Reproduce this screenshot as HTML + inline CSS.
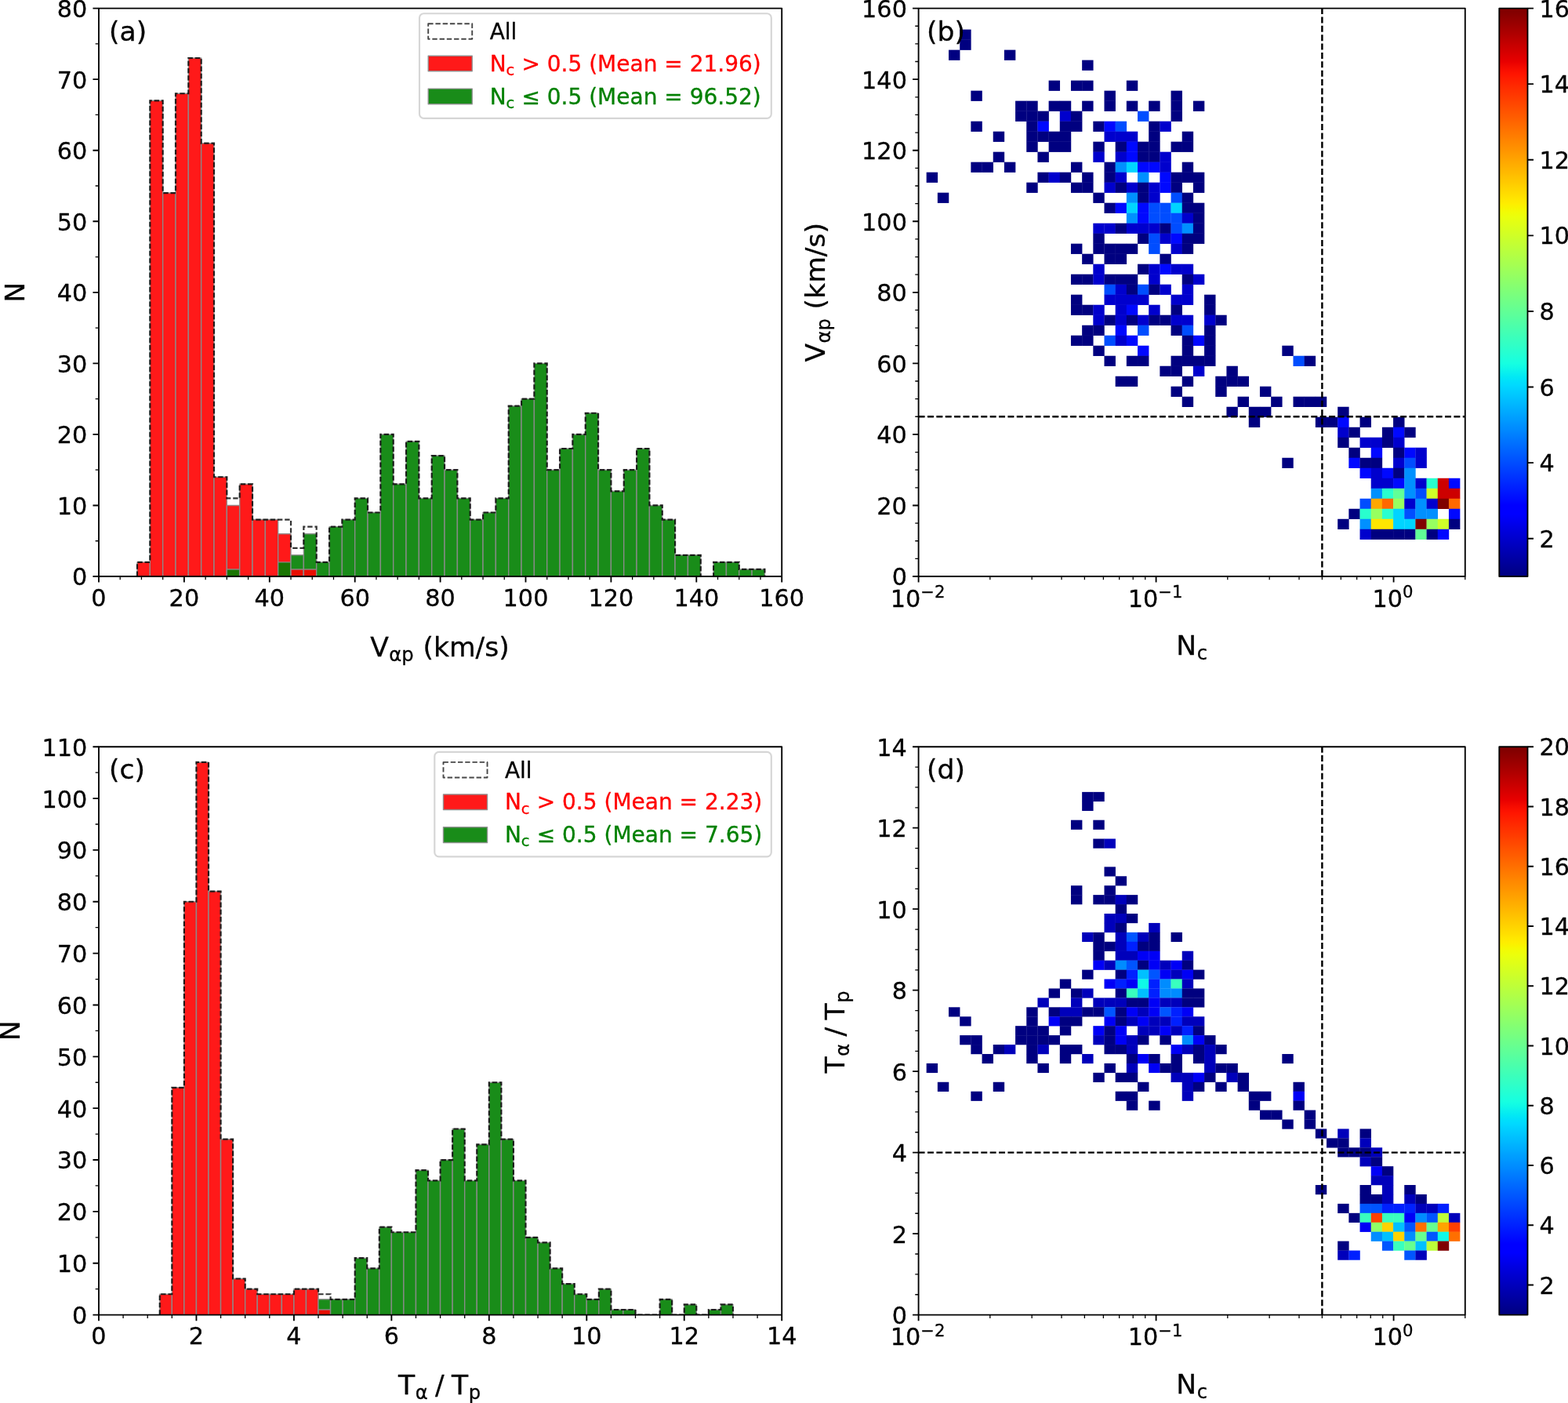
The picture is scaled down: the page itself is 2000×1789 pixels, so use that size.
<!DOCTYPE html>
<html lang="en"><head><meta charset="utf-8"><title>Figure</title>
<style>html,body{margin:0;padding:0;background:#fff}body{width:2000px;height:1789px;overflow:hidden}svg{display:block}</style></head>
<body>
<svg width="2000" height="1789" viewBox="0 0 2000 1789" font-family="'DejaVu Sans','Liberation Sans',sans-serif" stroke-width="0.3" stroke-linejoin="round">
<rect width="2000" height="1789" fill="#fff"/>
<clipPath id="ca"><rect x="126" y="10.6" width="871.2" height="724.4"/></clipPath>
<g clip-path="url(#ca)">
<rect x="175" y="716.89" width="16.34" height="18.11" fill="rgb(255,0,0)" fill-opacity="0.9" stroke="#8c8c8c" stroke-opacity="0.9" stroke-width="1.45"/>
<rect x="191.34" y="128.32" width="16.34" height="606.68" fill="rgb(255,0,0)" fill-opacity="0.9" stroke="#8c8c8c" stroke-opacity="0.9" stroke-width="1.45"/>
<rect x="207.68" y="246.03" width="16.33" height="488.97" fill="rgb(255,0,0)" fill-opacity="0.9" stroke="#8c8c8c" stroke-opacity="0.9" stroke-width="1.45"/>
<rect x="224.01" y="119.26" width="16.34" height="615.74" fill="rgb(255,0,0)" fill-opacity="0.9" stroke="#8c8c8c" stroke-opacity="0.9" stroke-width="1.45"/>
<rect x="240.35" y="73.99" width="16.33" height="661.01" fill="rgb(255,0,0)" fill-opacity="0.9" stroke="#8c8c8c" stroke-opacity="0.9" stroke-width="1.45"/>
<rect x="256.68" y="182.65" width="16.33" height="552.35" fill="rgb(255,0,0)" fill-opacity="0.9" stroke="#8c8c8c" stroke-opacity="0.9" stroke-width="1.45"/>
<rect x="273.01" y="608.23" width="16.34" height="126.77" fill="rgb(255,0,0)" fill-opacity="0.9" stroke="#8c8c8c" stroke-opacity="0.9" stroke-width="1.45"/>
<rect x="289.35" y="644.45" width="16.33" height="90.55" fill="rgb(255,0,0)" fill-opacity="0.9" stroke="#8c8c8c" stroke-opacity="0.9" stroke-width="1.45"/>
<rect x="289.35" y="725.95" width="16.33" height="9.05" fill="rgb(0,128,0)" fill-opacity="0.9" stroke="#8c8c8c" stroke-opacity="0.9" stroke-width="1.45"/>
<rect x="305.69" y="617.28" width="16.33" height="117.72" fill="rgb(255,0,0)" fill-opacity="0.9" stroke="#8c8c8c" stroke-opacity="0.9" stroke-width="1.45"/>
<rect x="322.02" y="662.56" width="16.34" height="72.44" fill="rgb(255,0,0)" fill-opacity="0.9" stroke="#8c8c8c" stroke-opacity="0.9" stroke-width="1.45"/>
<rect x="338.36" y="662.56" width="16.34" height="72.44" fill="rgb(255,0,0)" fill-opacity="0.9" stroke="#8c8c8c" stroke-opacity="0.9" stroke-width="1.45"/>
<rect x="354.69" y="680.67" width="16.33" height="54.33" fill="rgb(255,0,0)" fill-opacity="0.9" stroke="#8c8c8c" stroke-opacity="0.9" stroke-width="1.45"/>
<rect x="354.69" y="716.89" width="16.33" height="18.11" fill="rgb(0,128,0)" fill-opacity="0.9" stroke="#8c8c8c" stroke-opacity="0.9" stroke-width="1.45"/>
<rect x="371.02" y="707.84" width="16.34" height="27.16" fill="rgb(0,128,0)" fill-opacity="0.9" stroke="#8c8c8c" stroke-opacity="0.9" stroke-width="1.45"/>
<rect x="371.02" y="725.95" width="16.34" height="9.05" fill="rgb(255,0,0)" fill-opacity="0.9" stroke="#8c8c8c" stroke-opacity="0.9" stroke-width="1.45"/>
<rect x="387.36" y="680.67" width="16.33" height="54.33" fill="rgb(0,128,0)" fill-opacity="0.9" stroke="#8c8c8c" stroke-opacity="0.9" stroke-width="1.45"/>
<rect x="387.36" y="725.95" width="16.33" height="9.05" fill="rgb(255,0,0)" fill-opacity="0.9" stroke="#8c8c8c" stroke-opacity="0.9" stroke-width="1.45"/>
<rect x="403.69" y="716.89" width="16.34" height="18.11" fill="rgb(0,128,0)" fill-opacity="0.9" stroke="#8c8c8c" stroke-opacity="0.9" stroke-width="1.45"/>
<rect x="420.03" y="671.62" width="16.33" height="63.38" fill="rgb(0,128,0)" fill-opacity="0.9" stroke="#8c8c8c" stroke-opacity="0.9" stroke-width="1.45"/>
<rect x="436.37" y="662.56" width="16.34" height="72.44" fill="rgb(0,128,0)" fill-opacity="0.9" stroke="#8c8c8c" stroke-opacity="0.9" stroke-width="1.45"/>
<rect x="452.7" y="635.39" width="16.33" height="99.61" fill="rgb(0,128,0)" fill-opacity="0.9" stroke="#8c8c8c" stroke-opacity="0.9" stroke-width="1.45"/>
<rect x="469.04" y="653.5" width="16.33" height="81.5" fill="rgb(0,128,0)" fill-opacity="0.9" stroke="#8c8c8c" stroke-opacity="0.9" stroke-width="1.45"/>
<rect x="485.37" y="553.9" width="16.34" height="181.1" fill="rgb(0,128,0)" fill-opacity="0.9" stroke="#8c8c8c" stroke-opacity="0.9" stroke-width="1.45"/>
<rect x="501.71" y="617.28" width="16.33" height="117.72" fill="rgb(0,128,0)" fill-opacity="0.9" stroke="#8c8c8c" stroke-opacity="0.9" stroke-width="1.45"/>
<rect x="518.04" y="562.96" width="16.34" height="172.04" fill="rgb(0,128,0)" fill-opacity="0.9" stroke="#8c8c8c" stroke-opacity="0.9" stroke-width="1.45"/>
<rect x="534.38" y="635.39" width="16.34" height="99.61" fill="rgb(0,128,0)" fill-opacity="0.9" stroke="#8c8c8c" stroke-opacity="0.9" stroke-width="1.45"/>
<rect x="550.71" y="581.07" width="16.34" height="153.93" fill="rgb(0,128,0)" fill-opacity="0.9" stroke="#8c8c8c" stroke-opacity="0.9" stroke-width="1.45"/>
<rect x="567.05" y="599.17" width="16.34" height="135.83" fill="rgb(0,128,0)" fill-opacity="0.9" stroke="#8c8c8c" stroke-opacity="0.9" stroke-width="1.45"/>
<rect x="583.38" y="635.39" width="16.33" height="99.61" fill="rgb(0,128,0)" fill-opacity="0.9" stroke="#8c8c8c" stroke-opacity="0.9" stroke-width="1.45"/>
<rect x="599.71" y="662.56" width="16.34" height="72.44" fill="rgb(0,128,0)" fill-opacity="0.9" stroke="#8c8c8c" stroke-opacity="0.9" stroke-width="1.45"/>
<rect x="616.05" y="653.5" width="16.34" height="81.5" fill="rgb(0,128,0)" fill-opacity="0.9" stroke="#8c8c8c" stroke-opacity="0.9" stroke-width="1.45"/>
<rect x="632.38" y="635.39" width="16.34" height="99.61" fill="rgb(0,128,0)" fill-opacity="0.9" stroke="#8c8c8c" stroke-opacity="0.9" stroke-width="1.45"/>
<rect x="648.72" y="517.68" width="16.34" height="217.32" fill="rgb(0,128,0)" fill-opacity="0.9" stroke="#8c8c8c" stroke-opacity="0.9" stroke-width="1.45"/>
<rect x="665.06" y="508.62" width="16.33" height="226.38" fill="rgb(0,128,0)" fill-opacity="0.9" stroke="#8c8c8c" stroke-opacity="0.9" stroke-width="1.45"/>
<rect x="681.39" y="463.35" width="16.34" height="271.65" fill="rgb(0,128,0)" fill-opacity="0.9" stroke="#8c8c8c" stroke-opacity="0.9" stroke-width="1.45"/>
<rect x="697.73" y="599.17" width="16.34" height="135.83" fill="rgb(0,128,0)" fill-opacity="0.9" stroke="#8c8c8c" stroke-opacity="0.9" stroke-width="1.45"/>
<rect x="714.06" y="572.01" width="16.33" height="162.99" fill="rgb(0,128,0)" fill-opacity="0.9" stroke="#8c8c8c" stroke-opacity="0.9" stroke-width="1.45"/>
<rect x="730.39" y="553.9" width="16.34" height="181.1" fill="rgb(0,128,0)" fill-opacity="0.9" stroke="#8c8c8c" stroke-opacity="0.9" stroke-width="1.45"/>
<rect x="746.73" y="526.74" width="16.33" height="208.26" fill="rgb(0,128,0)" fill-opacity="0.9" stroke="#8c8c8c" stroke-opacity="0.9" stroke-width="1.45"/>
<rect x="763.06" y="599.17" width="16.34" height="135.83" fill="rgb(0,128,0)" fill-opacity="0.9" stroke="#8c8c8c" stroke-opacity="0.9" stroke-width="1.45"/>
<rect x="779.4" y="626.34" width="16.34" height="108.66" fill="rgb(0,128,0)" fill-opacity="0.9" stroke="#8c8c8c" stroke-opacity="0.9" stroke-width="1.45"/>
<rect x="795.74" y="599.17" width="16.33" height="135.83" fill="rgb(0,128,0)" fill-opacity="0.9" stroke="#8c8c8c" stroke-opacity="0.9" stroke-width="1.45"/>
<rect x="812.07" y="572.01" width="16.34" height="162.99" fill="rgb(0,128,0)" fill-opacity="0.9" stroke="#8c8c8c" stroke-opacity="0.9" stroke-width="1.45"/>
<rect x="828.41" y="644.45" width="16.33" height="90.55" fill="rgb(0,128,0)" fill-opacity="0.9" stroke="#8c8c8c" stroke-opacity="0.9" stroke-width="1.45"/>
<rect x="844.74" y="662.56" width="16.34" height="72.44" fill="rgb(0,128,0)" fill-opacity="0.9" stroke="#8c8c8c" stroke-opacity="0.9" stroke-width="1.45"/>
<rect x="861.08" y="707.84" width="16.34" height="27.16" fill="rgb(0,128,0)" fill-opacity="0.9" stroke="#8c8c8c" stroke-opacity="0.9" stroke-width="1.45"/>
<rect x="877.41" y="707.84" width="16.33" height="27.16" fill="rgb(0,128,0)" fill-opacity="0.9" stroke="#8c8c8c" stroke-opacity="0.9" stroke-width="1.45"/>
<rect x="910.08" y="716.89" width="16.33" height="18.11" fill="rgb(0,128,0)" fill-opacity="0.9" stroke="#8c8c8c" stroke-opacity="0.9" stroke-width="1.45"/>
<rect x="926.41" y="716.89" width="16.34" height="18.11" fill="rgb(0,128,0)" fill-opacity="0.9" stroke="#8c8c8c" stroke-opacity="0.9" stroke-width="1.45"/>
<rect x="942.75" y="725.95" width="16.34" height="9.05" fill="rgb(0,128,0)" fill-opacity="0.9" stroke="#8c8c8c" stroke-opacity="0.9" stroke-width="1.45"/>
<rect x="959.09" y="725.95" width="16.34" height="9.05" fill="rgb(0,128,0)" fill-opacity="0.9" stroke="#8c8c8c" stroke-opacity="0.9" stroke-width="1.45"/>
<path d="M175 735L175 716.89L191.34 716.89L191.34 128.32L207.68 128.32L207.68 246.03L224.01 246.03L224.01 119.26L240.35 119.26L240.35 73.99L256.68 73.99L256.68 182.65L273.01 182.65L273.01 608.23L289.35 608.23L289.35 635.39L305.69 635.39L305.69 617.28L322.02 617.28L322.02 662.56L338.36 662.56L338.36 662.56L354.69 662.56L354.69 662.56L371.02 662.56L371.02 698.78L387.36 698.78L387.36 671.62L403.69 671.62L403.69 716.89L420.03 716.89L420.03 671.62L436.37 671.62L436.37 662.56L452.7 662.56L452.7 635.39L469.04 635.39L469.04 653.5L485.37 653.5L485.37 553.9L501.71 553.9L501.71 617.28L518.04 617.28L518.04 562.96L534.38 562.96L534.38 635.39L550.71 635.39L550.71 581.07L567.05 581.07L567.05 599.17L583.38 599.17L583.38 635.39L599.71 635.39L599.71 662.56L616.05 662.56L616.05 653.5L632.38 653.5L632.38 635.39L648.72 635.39L648.72 517.68L665.06 517.68L665.06 508.62L681.39 508.62L681.39 463.35L697.73 463.35L697.73 599.17L714.06 599.17L714.06 572.01L730.39 572.01L730.39 553.9L746.73 553.9L746.73 526.74L763.06 526.74L763.06 599.17L779.4 599.17L779.4 626.34L795.74 626.34L795.74 599.17L812.07 599.17L812.07 572.01L828.41 572.01L828.41 644.45L844.74 644.45L844.74 662.56L861.08 662.56L861.08 707.84L877.41 707.84L877.41 707.84L893.75 707.84L893.75 735L910.08 735L910.08 716.89L926.41 716.89L926.41 716.89L942.75 716.89L942.75 725.95L959.09 725.95L959.09 725.95L975.42 725.95L975.42 735" fill="none" stroke="#000" stroke-opacity="0.8" stroke-width="2.2" stroke-dasharray="6.4 2.84" stroke-linejoin="miter"/>
</g>
<path d="M126 735v7.54M234.9 735v7.54M343.8 735v7.54M452.7 735v7.54M561.6 735v7.54M670.5 735v7.54M779.4 735v7.54M888.3 735v7.54M997.2 735v7.54" stroke="#000" stroke-width="1.85" fill="none"/>
<path d="M153.22 735v4.31M180.45 735v4.31M207.68 735v4.31M262.12 735v4.31M289.35 735v4.31M316.58 735v4.31M371.02 735v4.31M398.25 735v4.31M425.48 735v4.31M479.93 735v4.31M507.15 735v4.31M534.38 735v4.31M588.83 735v4.31M616.05 735v4.31M643.27 735v4.31M697.73 735v4.31M724.95 735v4.31M752.18 735v4.31M806.62 735v4.31M833.85 735v4.31M861.08 735v4.31M915.53 735v4.31M942.75 735v4.31M969.98 735v4.31" stroke="#000" stroke-width="1.29" fill="none"/>
<path d="M126 735h-7.54M126 644.45h-7.54M126 553.9h-7.54M126 463.35h-7.54M126 372.8h-7.54M126 282.25h-7.54M126 191.7h-7.54M126 101.15h-7.54M126 10.6h-7.54" stroke="#000" stroke-width="1.85" fill="none"/>
<path d="M126 689.73h-4.31M126 599.17h-4.31M126 508.62h-4.31M126 418.07h-4.31M126 327.53h-4.31M126 236.98h-4.31M126 146.43h-4.31M126 55.88h-4.31" stroke="#000" stroke-width="1.29" fill="none"/>
<rect x="126" y="10.6" width="871.2" height="724.4" fill="none" stroke="#000" stroke-width="1.85"/>
<text x="126" y="772.67" font-size="30.3" text-anchor="middle" fill="#000" stroke="#000">0</text>
<text x="234.9" y="772.67" font-size="30.3" text-anchor="middle" fill="#000" stroke="#000">20</text>
<text x="343.8" y="772.67" font-size="30.3" text-anchor="middle" fill="#000" stroke="#000">40</text>
<text x="452.7" y="772.67" font-size="30.3" text-anchor="middle" fill="#000" stroke="#000">60</text>
<text x="561.6" y="772.67" font-size="30.3" text-anchor="middle" fill="#000" stroke="#000">80</text>
<text x="670.5" y="772.67" font-size="30.3" text-anchor="middle" fill="#000" stroke="#000">100</text>
<text x="779.4" y="772.67" font-size="30.3" text-anchor="middle" fill="#000" stroke="#000">120</text>
<text x="888.3" y="772.67" font-size="30.3" text-anchor="middle" fill="#000" stroke="#000">140</text>
<text x="997.2" y="772.67" font-size="30.3" text-anchor="middle" fill="#000" stroke="#000">160</text>
<text x="111.31" y="746.44" font-size="30.3" text-anchor="end" fill="#000" stroke="#000">0</text>
<text x="111.31" y="655.89" font-size="30.3" text-anchor="end" fill="#000" stroke="#000">10</text>
<text x="111.31" y="565.34" font-size="30.3" text-anchor="end" fill="#000" stroke="#000">20</text>
<text x="111.31" y="474.79" font-size="30.3" text-anchor="end" fill="#000" stroke="#000">30</text>
<text x="111.31" y="384.24" font-size="30.3" text-anchor="end" fill="#000" stroke="#000">40</text>
<text x="111.31" y="293.69" font-size="30.3" text-anchor="end" fill="#000" stroke="#000">50</text>
<text x="111.31" y="203.14" font-size="30.3" text-anchor="end" fill="#000" stroke="#000">60</text>
<text x="111.31" y="112.59" font-size="30.3" text-anchor="end" fill="#000" stroke="#000">70</text>
<text x="111.31" y="22.04" font-size="30.3" text-anchor="end" fill="#000" stroke="#000">80</text>
<text x="561" y="836.8" font-size="34.6" text-anchor="middle" fill="#000" stroke="#000">V<tspan font-size="24.22" dy="6.4" dx="0.4">αp</tspan><tspan dy="-6.4" dx="0.8"> (km/s)</tspan></text>
<text x="0" y="0" font-size="34.6" text-anchor="middle" fill="#000" stroke="#000" transform="translate(31.2 372.8) rotate(-90)">N</text>
<text x="139.1" y="51.5" font-size="34.6" text-anchor="start" fill="#000" stroke="#000">(a)</text>
<rect x="535" y="17.2" width="448.8" height="133.6" rx="5.6" fill="#fff" fill-opacity="0.8" stroke="#ccc" stroke-opacity="0.8" stroke-width="2.15"/>
<rect x="546.21" y="30.2" width="56.03" height="19.61" fill="none" stroke="#000" stroke-opacity="0.72" stroke-width="1.9" stroke-dasharray="6.4 2.84"/>
<rect x="546.21" y="71.2" width="56.03" height="19.61" fill="rgb(255,0,0)" fill-opacity="0.9" stroke="#8c8c8c" stroke-opacity="0.9" stroke-width="1.45"/>
<rect x="546.21" y="113.1" width="56.03" height="19.61" fill="rgb(0,128,0)" fill-opacity="0.9" stroke="#8c8c8c" stroke-opacity="0.9" stroke-width="1.45"/>
<text x="624.65" y="50.4" font-size="28.01" text-anchor="start" fill="#000" stroke="#000">All</text>
<text x="624.65" y="90.7" font-size="28.01" text-anchor="start" fill="#ff0000" stroke="#ff0000">N<tspan font-size="19.61" dy="5.18" dx="-0.1">c</tspan><tspan dy="-5.18" dx="0.2"> &gt; 0.5 (Mean = 21.96)</tspan></text>
<text x="624.65" y="132.6" font-size="28.01" text-anchor="start" fill="#008000" stroke="#008000">N<tspan font-size="19.61" dy="5.18" dx="-0.1">c</tspan><tspan dy="-5.18" dx="0.2"> ≤ 0.5 (Mean = 96.52)</tspan></text>
<clipPath id="cc"><rect x="126" y="952.2" width="871.2" height="724.4"/></clipPath>
<g clip-path="url(#cc)">
<rect x="203.79" y="1650.26" width="15.56" height="26.34" fill="rgb(255,0,0)" fill-opacity="0.9" stroke="#8c8c8c" stroke-opacity="0.9" stroke-width="1.45"/>
<rect x="219.34" y="1386.84" width="15.56" height="289.76" fill="rgb(255,0,0)" fill-opacity="0.9" stroke="#8c8c8c" stroke-opacity="0.9" stroke-width="1.45"/>
<rect x="234.9" y="1149.76" width="15.56" height="526.84" fill="rgb(255,0,0)" fill-opacity="0.9" stroke="#8c8c8c" stroke-opacity="0.9" stroke-width="1.45"/>
<rect x="250.46" y="971.96" width="15.56" height="704.64" fill="rgb(255,0,0)" fill-opacity="0.9" stroke="#8c8c8c" stroke-opacity="0.9" stroke-width="1.45"/>
<rect x="266.01" y="1136.59" width="15.56" height="540.01" fill="rgb(255,0,0)" fill-opacity="0.9" stroke="#8c8c8c" stroke-opacity="0.9" stroke-width="1.45"/>
<rect x="281.57" y="1452.69" width="15.56" height="223.91" fill="rgb(255,0,0)" fill-opacity="0.9" stroke="#8c8c8c" stroke-opacity="0.9" stroke-width="1.45"/>
<rect x="297.13" y="1630.5" width="15.56" height="46.1" fill="rgb(255,0,0)" fill-opacity="0.9" stroke="#8c8c8c" stroke-opacity="0.9" stroke-width="1.45"/>
<rect x="312.69" y="1643.67" width="15.56" height="32.93" fill="rgb(255,0,0)" fill-opacity="0.9" stroke="#8c8c8c" stroke-opacity="0.9" stroke-width="1.45"/>
<rect x="328.24" y="1650.26" width="15.56" height="26.34" fill="rgb(255,0,0)" fill-opacity="0.9" stroke="#8c8c8c" stroke-opacity="0.9" stroke-width="1.45"/>
<rect x="343.8" y="1650.26" width="15.56" height="26.34" fill="rgb(255,0,0)" fill-opacity="0.9" stroke="#8c8c8c" stroke-opacity="0.9" stroke-width="1.45"/>
<rect x="359.36" y="1650.26" width="15.56" height="26.34" fill="rgb(255,0,0)" fill-opacity="0.9" stroke="#8c8c8c" stroke-opacity="0.9" stroke-width="1.45"/>
<rect x="374.91" y="1643.67" width="15.56" height="32.93" fill="rgb(255,0,0)" fill-opacity="0.9" stroke="#8c8c8c" stroke-opacity="0.9" stroke-width="1.45"/>
<rect x="390.47" y="1643.67" width="15.56" height="32.93" fill="rgb(255,0,0)" fill-opacity="0.9" stroke="#8c8c8c" stroke-opacity="0.9" stroke-width="1.45"/>
<rect x="406.03" y="1656.84" width="15.56" height="19.76" fill="rgb(0,128,0)" fill-opacity="0.9" stroke="#8c8c8c" stroke-opacity="0.9" stroke-width="1.45"/>
<rect x="406.03" y="1670.01" width="15.56" height="6.59" fill="rgb(255,0,0)" fill-opacity="0.9" stroke="#8c8c8c" stroke-opacity="0.9" stroke-width="1.45"/>
<rect x="421.59" y="1656.84" width="15.56" height="19.76" fill="rgb(0,128,0)" fill-opacity="0.9" stroke="#8c8c8c" stroke-opacity="0.9" stroke-width="1.45"/>
<rect x="437.14" y="1656.84" width="15.56" height="19.76" fill="rgb(0,128,0)" fill-opacity="0.9" stroke="#8c8c8c" stroke-opacity="0.9" stroke-width="1.45"/>
<rect x="452.7" y="1604.16" width="15.56" height="72.44" fill="rgb(0,128,0)" fill-opacity="0.9" stroke="#8c8c8c" stroke-opacity="0.9" stroke-width="1.45"/>
<rect x="468.26" y="1617.33" width="15.56" height="59.27" fill="rgb(0,128,0)" fill-opacity="0.9" stroke="#8c8c8c" stroke-opacity="0.9" stroke-width="1.45"/>
<rect x="483.81" y="1564.65" width="15.56" height="111.95" fill="rgb(0,128,0)" fill-opacity="0.9" stroke="#8c8c8c" stroke-opacity="0.9" stroke-width="1.45"/>
<rect x="499.37" y="1571.23" width="15.56" height="105.37" fill="rgb(0,128,0)" fill-opacity="0.9" stroke="#8c8c8c" stroke-opacity="0.9" stroke-width="1.45"/>
<rect x="514.93" y="1571.23" width="15.56" height="105.37" fill="rgb(0,128,0)" fill-opacity="0.9" stroke="#8c8c8c" stroke-opacity="0.9" stroke-width="1.45"/>
<rect x="530.49" y="1492.21" width="15.56" height="184.39" fill="rgb(0,128,0)" fill-opacity="0.9" stroke="#8c8c8c" stroke-opacity="0.9" stroke-width="1.45"/>
<rect x="546.04" y="1505.38" width="15.56" height="171.22" fill="rgb(0,128,0)" fill-opacity="0.9" stroke="#8c8c8c" stroke-opacity="0.9" stroke-width="1.45"/>
<rect x="561.6" y="1479.04" width="15.56" height="197.56" fill="rgb(0,128,0)" fill-opacity="0.9" stroke="#8c8c8c" stroke-opacity="0.9" stroke-width="1.45"/>
<rect x="577.16" y="1439.52" width="15.56" height="237.08" fill="rgb(0,128,0)" fill-opacity="0.9" stroke="#8c8c8c" stroke-opacity="0.9" stroke-width="1.45"/>
<rect x="592.71" y="1505.38" width="15.56" height="171.22" fill="rgb(0,128,0)" fill-opacity="0.9" stroke="#8c8c8c" stroke-opacity="0.9" stroke-width="1.45"/>
<rect x="608.27" y="1459.28" width="15.56" height="217.32" fill="rgb(0,128,0)" fill-opacity="0.9" stroke="#8c8c8c" stroke-opacity="0.9" stroke-width="1.45"/>
<rect x="623.83" y="1380.25" width="15.56" height="296.35" fill="rgb(0,128,0)" fill-opacity="0.9" stroke="#8c8c8c" stroke-opacity="0.9" stroke-width="1.45"/>
<rect x="639.39" y="1452.69" width="15.56" height="223.91" fill="rgb(0,128,0)" fill-opacity="0.9" stroke="#8c8c8c" stroke-opacity="0.9" stroke-width="1.45"/>
<rect x="654.94" y="1505.38" width="15.56" height="171.22" fill="rgb(0,128,0)" fill-opacity="0.9" stroke="#8c8c8c" stroke-opacity="0.9" stroke-width="1.45"/>
<rect x="670.5" y="1577.82" width="15.56" height="98.78" fill="rgb(0,128,0)" fill-opacity="0.9" stroke="#8c8c8c" stroke-opacity="0.9" stroke-width="1.45"/>
<rect x="686.06" y="1584.4" width="15.56" height="92.2" fill="rgb(0,128,0)" fill-opacity="0.9" stroke="#8c8c8c" stroke-opacity="0.9" stroke-width="1.45"/>
<rect x="701.61" y="1617.33" width="15.56" height="59.27" fill="rgb(0,128,0)" fill-opacity="0.9" stroke="#8c8c8c" stroke-opacity="0.9" stroke-width="1.45"/>
<rect x="717.17" y="1637.09" width="15.56" height="39.51" fill="rgb(0,128,0)" fill-opacity="0.9" stroke="#8c8c8c" stroke-opacity="0.9" stroke-width="1.45"/>
<rect x="732.73" y="1650.26" width="15.56" height="26.34" fill="rgb(0,128,0)" fill-opacity="0.9" stroke="#8c8c8c" stroke-opacity="0.9" stroke-width="1.45"/>
<rect x="748.29" y="1656.84" width="15.56" height="19.76" fill="rgb(0,128,0)" fill-opacity="0.9" stroke="#8c8c8c" stroke-opacity="0.9" stroke-width="1.45"/>
<rect x="763.84" y="1643.67" width="15.56" height="32.93" fill="rgb(0,128,0)" fill-opacity="0.9" stroke="#8c8c8c" stroke-opacity="0.9" stroke-width="1.45"/>
<rect x="779.4" y="1670.01" width="15.56" height="6.59" fill="rgb(0,128,0)" fill-opacity="0.9" stroke="#8c8c8c" stroke-opacity="0.9" stroke-width="1.45"/>
<rect x="794.96" y="1670.01" width="15.56" height="6.59" fill="rgb(0,128,0)" fill-opacity="0.9" stroke="#8c8c8c" stroke-opacity="0.9" stroke-width="1.45"/>
<rect x="841.63" y="1656.84" width="15.56" height="19.76" fill="rgb(0,128,0)" fill-opacity="0.9" stroke="#8c8c8c" stroke-opacity="0.9" stroke-width="1.45"/>
<rect x="872.74" y="1663.43" width="15.56" height="13.17" fill="rgb(0,128,0)" fill-opacity="0.9" stroke="#8c8c8c" stroke-opacity="0.9" stroke-width="1.45"/>
<rect x="903.86" y="1670.01" width="15.56" height="6.59" fill="rgb(0,128,0)" fill-opacity="0.9" stroke="#8c8c8c" stroke-opacity="0.9" stroke-width="1.45"/>
<rect x="919.41" y="1663.43" width="15.56" height="13.17" fill="rgb(0,128,0)" fill-opacity="0.9" stroke="#8c8c8c" stroke-opacity="0.9" stroke-width="1.45"/>
<path d="M203.79 1676.6L203.79 1650.26L219.34 1650.26L219.34 1386.84L234.9 1386.84L234.9 1149.76L250.46 1149.76L250.46 971.96L266.01 971.96L266.01 1136.59L281.57 1136.59L281.57 1452.69L297.13 1452.69L297.13 1630.5L312.69 1630.5L312.69 1643.67L328.24 1643.67L328.24 1650.26L343.8 1650.26L343.8 1650.26L359.36 1650.26L359.36 1650.26L374.91 1650.26L374.91 1643.67L390.47 1643.67L390.47 1643.67L406.03 1643.67L406.03 1650.26L421.59 1650.26L421.59 1656.84L437.14 1656.84L437.14 1656.84L452.7 1656.84L452.7 1604.16L468.26 1604.16L468.26 1617.33L483.81 1617.33L483.81 1564.65L499.37 1564.65L499.37 1571.23L514.93 1571.23L514.93 1571.23L530.49 1571.23L530.49 1492.21L546.04 1492.21L546.04 1505.38L561.6 1505.38L561.6 1479.04L577.16 1479.04L577.16 1439.52L592.71 1439.52L592.71 1505.38L608.27 1505.38L608.27 1459.28L623.83 1459.28L623.83 1380.25L639.39 1380.25L639.39 1452.69L654.94 1452.69L654.94 1505.38L670.5 1505.38L670.5 1577.82L686.06 1577.82L686.06 1584.4L701.61 1584.4L701.61 1617.33L717.17 1617.33L717.17 1637.09L732.73 1637.09L732.73 1650.26L748.29 1650.26L748.29 1656.84L763.84 1656.84L763.84 1643.67L779.4 1643.67L779.4 1670.01L794.96 1670.01L794.96 1670.01L810.51 1670.01L810.51 1676.6L826.07 1676.6L826.07 1676.6L841.63 1676.6L841.63 1656.84L857.19 1656.84L857.19 1676.6L872.74 1676.6L872.74 1663.43L888.3 1663.43L888.3 1676.6L903.86 1676.6L903.86 1670.01L919.41 1670.01L919.41 1663.43L934.97 1663.43L934.97 1676.6" fill="none" stroke="#000" stroke-opacity="0.8" stroke-width="2.2" stroke-dasharray="6.4 2.84" stroke-linejoin="miter"/>
</g>
<path d="M126 1676.6v7.54M250.46 1676.6v7.54M374.91 1676.6v7.54M499.37 1676.6v7.54M623.83 1676.6v7.54M748.29 1676.6v7.54M872.74 1676.6v7.54M997.2 1676.6v7.54" stroke="#000" stroke-width="1.85" fill="none"/>
<path d="M157.11 1676.6v4.31M188.23 1676.6v4.31M219.34 1676.6v4.31M281.57 1676.6v4.31M312.69 1676.6v4.31M343.8 1676.6v4.31M406.03 1676.6v4.31M437.14 1676.6v4.31M468.26 1676.6v4.31M530.49 1676.6v4.31M561.6 1676.6v4.31M592.71 1676.6v4.31M654.94 1676.6v4.31M686.06 1676.6v4.31M717.17 1676.6v4.31M779.4 1676.6v4.31M810.51 1676.6v4.31M841.63 1676.6v4.31M903.86 1676.6v4.31M934.97 1676.6v4.31M966.09 1676.6v4.31" stroke="#000" stroke-width="1.29" fill="none"/>
<path d="M126 1676.6h-7.54M126 1610.75h-7.54M126 1544.89h-7.54M126 1479.04h-7.54M126 1413.18h-7.54M126 1347.33h-7.54M126 1281.47h-7.54M126 1215.62h-7.54M126 1149.76h-7.54M126 1083.91h-7.54M126 1018.05h-7.54M126 952.2h-7.54" stroke="#000" stroke-width="1.85" fill="none"/>
<path d="M126 1643.67h-4.31M126 1577.82h-4.31M126 1511.96h-4.31M126 1446.11h-4.31M126 1380.25h-4.31M126 1314.4h-4.31M126 1248.55h-4.31M126 1182.69h-4.31M126 1116.84h-4.31M126 1050.98h-4.31M126 985.13h-4.31" stroke="#000" stroke-width="1.29" fill="none"/>
<rect x="126" y="952.2" width="871.2" height="724.4" fill="none" stroke="#000" stroke-width="1.85"/>
<text x="126" y="1714.27" font-size="30.3" text-anchor="middle" fill="#000" stroke="#000">0</text>
<text x="250.46" y="1714.27" font-size="30.3" text-anchor="middle" fill="#000" stroke="#000">2</text>
<text x="374.91" y="1714.27" font-size="30.3" text-anchor="middle" fill="#000" stroke="#000">4</text>
<text x="499.37" y="1714.27" font-size="30.3" text-anchor="middle" fill="#000" stroke="#000">6</text>
<text x="623.83" y="1714.27" font-size="30.3" text-anchor="middle" fill="#000" stroke="#000">8</text>
<text x="748.29" y="1714.27" font-size="30.3" text-anchor="middle" fill="#000" stroke="#000">10</text>
<text x="872.74" y="1714.27" font-size="30.3" text-anchor="middle" fill="#000" stroke="#000">12</text>
<text x="997.2" y="1714.27" font-size="30.3" text-anchor="middle" fill="#000" stroke="#000">14</text>
<text x="111.31" y="1688.04" font-size="30.3" text-anchor="end" fill="#000" stroke="#000">0</text>
<text x="111.31" y="1622.19" font-size="30.3" text-anchor="end" fill="#000" stroke="#000">10</text>
<text x="111.31" y="1556.34" font-size="30.3" text-anchor="end" fill="#000" stroke="#000">20</text>
<text x="111.31" y="1490.48" font-size="30.3" text-anchor="end" fill="#000" stroke="#000">30</text>
<text x="111.31" y="1424.63" font-size="30.3" text-anchor="end" fill="#000" stroke="#000">40</text>
<text x="111.31" y="1358.77" font-size="30.3" text-anchor="end" fill="#000" stroke="#000">50</text>
<text x="111.31" y="1292.92" font-size="30.3" text-anchor="end" fill="#000" stroke="#000">60</text>
<text x="111.31" y="1227.06" font-size="30.3" text-anchor="end" fill="#000" stroke="#000">70</text>
<text x="111.31" y="1161.21" font-size="30.3" text-anchor="end" fill="#000" stroke="#000">80</text>
<text x="111.31" y="1095.35" font-size="30.3" text-anchor="end" fill="#000" stroke="#000">90</text>
<text x="111.31" y="1029.5" font-size="30.3" text-anchor="end" fill="#000" stroke="#000">100</text>
<text x="111.31" y="963.64" font-size="30.3" text-anchor="end" fill="#000" stroke="#000">110</text>
<text x="560.6" y="1777.9" font-size="34.6" text-anchor="middle" fill="#000" stroke="#000" word-spacing="-1.6">T<tspan font-size="24.22" dy="6.4" dx="0.62">α</tspan><tspan dy="-6.4" dx="0"> / </tspan>T<tspan font-size="24.22" dy="6.4" dx="0.62">p</tspan></text>
<text x="0" y="0" font-size="34.6" text-anchor="middle" fill="#000" stroke="#000" transform="translate(25.3 1314.4) rotate(-90)">N</text>
<text x="139.1" y="993.1" font-size="34.6" text-anchor="start" fill="#000" stroke="#000">(c)</text>
<rect x="554.3" y="958.9" width="429.5" height="133.4" rx="5.6" fill="#fff" fill-opacity="0.8" stroke="#ccc" stroke-opacity="0.8" stroke-width="2.15"/>
<rect x="565.51" y="971.9" width="56.03" height="19.61" fill="none" stroke="#000" stroke-opacity="0.72" stroke-width="1.9" stroke-dasharray="6.4 2.84"/>
<rect x="565.51" y="1012.9" width="56.03" height="19.61" fill="rgb(255,0,0)" fill-opacity="0.9" stroke="#8c8c8c" stroke-opacity="0.9" stroke-width="1.45"/>
<rect x="565.51" y="1054.8" width="56.03" height="19.61" fill="rgb(0,128,0)" fill-opacity="0.9" stroke="#8c8c8c" stroke-opacity="0.9" stroke-width="1.45"/>
<text x="643.95" y="992.1" font-size="28.01" text-anchor="start" fill="#000" stroke="#000">All</text>
<text x="643.95" y="1032.4" font-size="28.01" text-anchor="start" fill="#ff0000" stroke="#ff0000">N<tspan font-size="19.61" dy="5.18" dx="-0.1">c</tspan><tspan dy="-5.18" dx="0.2"> &gt; 0.5 (Mean = 2.23)</tspan></text>
<text x="643.95" y="1074.3" font-size="28.01" text-anchor="start" fill="#008000" stroke="#008000">N<tspan font-size="19.61" dy="5.18" dx="-0.1">c</tspan><tspan dy="-5.18" dx="0.2"> ≤ 0.5 (Mean = 7.65)</tspan></text>
<rect x="1224.21" y="37.63" width="14.42" height="13.24" fill="#000080"/>
<rect x="1224.21" y="50.63" width="14.42" height="13.24" fill="#000080"/>
<rect x="1210.03" y="63.64" width="14.42" height="13.24" fill="#000080"/>
<rect x="1280.91" y="63.64" width="14.42" height="13.24" fill="#000080"/>
<rect x="1380.14" y="76.64" width="14.42" height="13.24" fill="#000080"/>
<rect x="1337.62" y="102.64" width="14.42" height="13.24" fill="#000080"/>
<rect x="1365.97" y="102.64" width="14.42" height="13.24" fill="#000080"/>
<rect x="1380.14" y="102.64" width="14.42" height="13.24" fill="#000080"/>
<rect x="1436.85" y="102.64" width="14.42" height="13.24" fill="#000080"/>
<rect x="1238.38" y="115.65" width="14.42" height="13.24" fill="#000080"/>
<rect x="1408.5" y="115.65" width="14.42" height="13.24" fill="#000080"/>
<rect x="1493.55" y="115.65" width="14.42" height="13.24" fill="#000080"/>
<rect x="1295.09" y="128.65" width="14.42" height="13.24" fill="#000080"/>
<rect x="1309.26" y="128.65" width="14.42" height="13.24" fill="#000080"/>
<rect x="1337.62" y="128.65" width="14.42" height="13.24" fill="#000080"/>
<rect x="1351.79" y="128.65" width="14.42" height="13.24" fill="#000080"/>
<rect x="1380.14" y="128.65" width="14.42" height="13.24" fill="#000080"/>
<rect x="1408.5" y="128.65" width="14.42" height="13.24" fill="#000080"/>
<rect x="1436.85" y="128.65" width="14.42" height="13.24" fill="#000080"/>
<rect x="1465.2" y="128.65" width="14.42" height="13.24" fill="#000080"/>
<rect x="1493.55" y="128.65" width="14.42" height="13.24" fill="#000080"/>
<rect x="1521.9" y="128.65" width="14.42" height="13.24" fill="#000080"/>
<rect x="1295.09" y="141.65" width="14.42" height="13.24" fill="#000080"/>
<rect x="1309.26" y="141.65" width="14.42" height="13.24" fill="#000080"/>
<rect x="1323.44" y="141.65" width="14.42" height="13.24" fill="#000080"/>
<rect x="1351.79" y="141.65" width="14.42" height="13.24" fill="#0000cd"/>
<rect x="1365.97" y="141.65" width="14.42" height="13.24" fill="#000080"/>
<rect x="1451.02" y="141.65" width="14.42" height="13.24" fill="#004dff"/>
<rect x="1493.55" y="141.65" width="14.42" height="13.24" fill="#000080"/>
<rect x="1238.38" y="154.66" width="14.42" height="13.24" fill="#000080"/>
<rect x="1309.26" y="154.66" width="14.42" height="13.24" fill="#000080"/>
<rect x="1323.44" y="154.66" width="14.42" height="13.24" fill="#0008ff"/>
<rect x="1351.79" y="154.66" width="14.42" height="13.24" fill="#000080"/>
<rect x="1365.97" y="154.66" width="14.42" height="13.24" fill="#000080"/>
<rect x="1394.32" y="154.66" width="14.42" height="13.24" fill="#000080"/>
<rect x="1408.5" y="154.66" width="14.42" height="13.24" fill="#0008ff"/>
<rect x="1422.67" y="154.66" width="14.42" height="13.24" fill="#004dff"/>
<rect x="1465.2" y="154.66" width="14.42" height="13.24" fill="#000080"/>
<rect x="1479.38" y="154.66" width="14.42" height="13.24" fill="#0000cd"/>
<rect x="1266.74" y="167.66" width="14.42" height="13.24" fill="#000080"/>
<rect x="1309.26" y="167.66" width="14.42" height="13.24" fill="#000080"/>
<rect x="1323.44" y="167.66" width="14.42" height="13.24" fill="#000080"/>
<rect x="1337.62" y="167.66" width="14.42" height="13.24" fill="#000080"/>
<rect x="1351.79" y="167.66" width="14.42" height="13.24" fill="#000080"/>
<rect x="1408.5" y="167.66" width="14.42" height="13.24" fill="#0000cd"/>
<rect x="1422.67" y="167.66" width="14.42" height="13.24" fill="#0000cd"/>
<rect x="1436.85" y="167.66" width="14.42" height="13.24" fill="#0000cd"/>
<rect x="1465.2" y="167.66" width="14.42" height="13.24" fill="#000080"/>
<rect x="1507.73" y="167.66" width="14.42" height="13.24" fill="#000080"/>
<rect x="1309.26" y="180.66" width="14.42" height="13.24" fill="#000080"/>
<rect x="1337.62" y="180.66" width="14.42" height="13.24" fill="#000080"/>
<rect x="1351.79" y="180.66" width="14.42" height="13.24" fill="#000080"/>
<rect x="1394.32" y="180.66" width="14.42" height="13.24" fill="#000080"/>
<rect x="1422.67" y="180.66" width="14.42" height="13.24" fill="#000080"/>
<rect x="1436.85" y="180.66" width="14.42" height="13.24" fill="#0008ff"/>
<rect x="1451.02" y="180.66" width="14.42" height="13.24" fill="#000080"/>
<rect x="1465.2" y="180.66" width="14.42" height="13.24" fill="#000080"/>
<rect x="1493.55" y="180.66" width="14.42" height="13.24" fill="#000080"/>
<rect x="1507.73" y="180.66" width="14.42" height="13.24" fill="#000080"/>
<rect x="1266.74" y="193.67" width="14.42" height="13.24" fill="#000080"/>
<rect x="1323.44" y="193.67" width="14.42" height="13.24" fill="#000080"/>
<rect x="1394.32" y="193.67" width="14.42" height="13.24" fill="#0000cd"/>
<rect x="1422.67" y="193.67" width="14.42" height="13.24" fill="#0000cd"/>
<rect x="1436.85" y="193.67" width="14.42" height="13.24" fill="#0008ff"/>
<rect x="1451.02" y="193.67" width="14.42" height="13.24" fill="#000080"/>
<rect x="1465.2" y="193.67" width="14.42" height="13.24" fill="#000080"/>
<rect x="1479.38" y="193.67" width="14.42" height="13.24" fill="#0000cd"/>
<rect x="1238.38" y="206.67" width="14.42" height="13.24" fill="#000080"/>
<rect x="1252.56" y="206.67" width="14.42" height="13.24" fill="#000080"/>
<rect x="1280.91" y="206.67" width="14.42" height="13.24" fill="#000080"/>
<rect x="1365.97" y="206.67" width="14.42" height="13.24" fill="#000080"/>
<rect x="1408.5" y="206.67" width="14.42" height="13.24" fill="#000080"/>
<rect x="1422.67" y="206.67" width="14.42" height="13.24" fill="#0090ff"/>
<rect x="1436.85" y="206.67" width="14.42" height="13.24" fill="#00d4ff"/>
<rect x="1451.02" y="206.67" width="14.42" height="13.24" fill="#0008ff"/>
<rect x="1465.2" y="206.67" width="14.42" height="13.24" fill="#0008ff"/>
<rect x="1479.38" y="206.67" width="14.42" height="13.24" fill="#0000cd"/>
<rect x="1507.73" y="206.67" width="14.42" height="13.24" fill="#000080"/>
<rect x="1181.68" y="219.67" width="14.42" height="13.24" fill="#000080"/>
<rect x="1323.44" y="219.67" width="14.42" height="13.24" fill="#000080"/>
<rect x="1337.62" y="219.67" width="14.42" height="13.24" fill="#0000cd"/>
<rect x="1351.79" y="219.67" width="14.42" height="13.24" fill="#000080"/>
<rect x="1380.14" y="219.67" width="14.42" height="13.24" fill="#000080"/>
<rect x="1408.5" y="219.67" width="14.42" height="13.24" fill="#000080"/>
<rect x="1422.67" y="219.67" width="14.42" height="13.24" fill="#0000cd"/>
<rect x="1451.02" y="219.67" width="14.42" height="13.24" fill="#0090ff"/>
<rect x="1479.38" y="219.67" width="14.42" height="13.24" fill="#0008ff"/>
<rect x="1493.55" y="219.67" width="14.42" height="13.24" fill="#000080"/>
<rect x="1507.73" y="219.67" width="14.42" height="13.24" fill="#000080"/>
<rect x="1521.9" y="219.67" width="14.42" height="13.24" fill="#000080"/>
<rect x="1309.26" y="232.68" width="14.42" height="13.24" fill="#000080"/>
<rect x="1365.97" y="232.68" width="14.42" height="13.24" fill="#000080"/>
<rect x="1380.14" y="232.68" width="14.42" height="13.24" fill="#000080"/>
<rect x="1408.5" y="232.68" width="14.42" height="13.24" fill="#0000cd"/>
<rect x="1422.67" y="232.68" width="14.42" height="13.24" fill="#000080"/>
<rect x="1436.85" y="232.68" width="14.42" height="13.24" fill="#0000cd"/>
<rect x="1451.02" y="232.68" width="14.42" height="13.24" fill="#000080"/>
<rect x="1465.2" y="232.68" width="14.42" height="13.24" fill="#0000cd"/>
<rect x="1479.38" y="232.68" width="14.42" height="13.24" fill="#0008ff"/>
<rect x="1493.55" y="232.68" width="14.42" height="13.24" fill="#000080"/>
<rect x="1521.9" y="232.68" width="14.42" height="13.24" fill="#000080"/>
<rect x="1195.86" y="245.68" width="14.42" height="13.24" fill="#000080"/>
<rect x="1394.32" y="245.68" width="14.42" height="13.24" fill="#000080"/>
<rect x="1436.85" y="245.68" width="14.42" height="13.24" fill="#0090ff"/>
<rect x="1451.02" y="245.68" width="14.42" height="13.24" fill="#000080"/>
<rect x="1465.2" y="245.68" width="14.42" height="13.24" fill="#0000cd"/>
<rect x="1493.55" y="245.68" width="14.42" height="13.24" fill="#004dff"/>
<rect x="1507.73" y="245.68" width="14.42" height="13.24" fill="#000080"/>
<rect x="1408.5" y="258.68" width="14.42" height="13.24" fill="#000080"/>
<rect x="1422.67" y="258.68" width="14.42" height="13.24" fill="#0008ff"/>
<rect x="1436.85" y="258.68" width="14.42" height="13.24" fill="#00d4ff"/>
<rect x="1451.02" y="258.68" width="14.42" height="13.24" fill="#0008ff"/>
<rect x="1465.2" y="258.68" width="14.42" height="13.24" fill="#004dff"/>
<rect x="1479.38" y="258.68" width="14.42" height="13.24" fill="#004dff"/>
<rect x="1493.55" y="258.68" width="14.42" height="13.24" fill="#00d4ff"/>
<rect x="1507.73" y="258.68" width="14.42" height="13.24" fill="#000080"/>
<rect x="1521.9" y="258.68" width="14.42" height="13.24" fill="#000080"/>
<rect x="1436.85" y="271.68" width="14.42" height="13.24" fill="#0090ff"/>
<rect x="1451.02" y="271.68" width="14.42" height="13.24" fill="#0008ff"/>
<rect x="1465.2" y="271.68" width="14.42" height="13.24" fill="#004dff"/>
<rect x="1479.38" y="271.68" width="14.42" height="13.24" fill="#004dff"/>
<rect x="1493.55" y="271.68" width="14.42" height="13.24" fill="#004dff"/>
<rect x="1507.73" y="271.68" width="14.42" height="13.24" fill="#0000cd"/>
<rect x="1521.9" y="271.68" width="14.42" height="13.24" fill="#000080"/>
<rect x="1394.32" y="284.69" width="14.42" height="13.24" fill="#0000cd"/>
<rect x="1408.5" y="284.69" width="14.42" height="13.24" fill="#0000cd"/>
<rect x="1422.67" y="284.69" width="14.42" height="13.24" fill="#000080"/>
<rect x="1436.85" y="284.69" width="14.42" height="13.24" fill="#0000cd"/>
<rect x="1451.02" y="284.69" width="14.42" height="13.24" fill="#0000cd"/>
<rect x="1465.2" y="284.69" width="14.42" height="13.24" fill="#0000cd"/>
<rect x="1479.38" y="284.69" width="14.42" height="13.24" fill="#000080"/>
<rect x="1493.55" y="284.69" width="14.42" height="13.24" fill="#004dff"/>
<rect x="1507.73" y="284.69" width="14.42" height="13.24" fill="#0090ff"/>
<rect x="1521.9" y="284.69" width="14.42" height="13.24" fill="#000080"/>
<rect x="1394.32" y="297.69" width="14.42" height="13.24" fill="#000080"/>
<rect x="1451.02" y="297.69" width="14.42" height="13.24" fill="#000080"/>
<rect x="1465.2" y="297.69" width="14.42" height="13.24" fill="#004dff"/>
<rect x="1479.38" y="297.69" width="14.42" height="13.24" fill="#0000cd"/>
<rect x="1493.55" y="297.69" width="14.42" height="13.24" fill="#0008ff"/>
<rect x="1507.73" y="297.69" width="14.42" height="13.24" fill="#000080"/>
<rect x="1521.9" y="297.69" width="14.42" height="13.24" fill="#000080"/>
<rect x="1365.97" y="310.69" width="14.42" height="13.24" fill="#000080"/>
<rect x="1394.32" y="310.69" width="14.42" height="13.24" fill="#000080"/>
<rect x="1408.5" y="310.69" width="14.42" height="13.24" fill="#000080"/>
<rect x="1422.67" y="310.69" width="14.42" height="13.24" fill="#000080"/>
<rect x="1436.85" y="310.69" width="14.42" height="13.24" fill="#000080"/>
<rect x="1465.2" y="310.69" width="14.42" height="13.24" fill="#004dff"/>
<rect x="1493.55" y="310.69" width="14.42" height="13.24" fill="#0000cd"/>
<rect x="1507.73" y="310.69" width="14.42" height="13.24" fill="#000080"/>
<rect x="1380.14" y="323.7" width="14.42" height="13.24" fill="#000080"/>
<rect x="1408.5" y="323.7" width="14.42" height="13.24" fill="#000080"/>
<rect x="1422.67" y="323.7" width="14.42" height="13.24" fill="#000080"/>
<rect x="1479.38" y="323.7" width="14.42" height="13.24" fill="#000080"/>
<rect x="1394.32" y="336.7" width="14.42" height="13.24" fill="#0000cd"/>
<rect x="1451.02" y="336.7" width="14.42" height="13.24" fill="#000080"/>
<rect x="1465.2" y="336.7" width="14.42" height="13.24" fill="#0000cd"/>
<rect x="1479.38" y="336.7" width="14.42" height="13.24" fill="#0008ff"/>
<rect x="1493.55" y="336.7" width="14.42" height="13.24" fill="#0000cd"/>
<rect x="1507.73" y="336.7" width="14.42" height="13.24" fill="#0000cd"/>
<rect x="1365.97" y="349.7" width="14.42" height="13.24" fill="#000080"/>
<rect x="1380.14" y="349.7" width="14.42" height="13.24" fill="#000080"/>
<rect x="1394.32" y="349.7" width="14.42" height="13.24" fill="#0000cd"/>
<rect x="1408.5" y="349.7" width="14.42" height="13.24" fill="#000080"/>
<rect x="1422.67" y="349.7" width="14.42" height="13.24" fill="#000080"/>
<rect x="1436.85" y="349.7" width="14.42" height="13.24" fill="#000080"/>
<rect x="1465.2" y="349.7" width="14.42" height="13.24" fill="#0000cd"/>
<rect x="1507.73" y="349.7" width="14.42" height="13.24" fill="#000080"/>
<rect x="1521.9" y="349.7" width="14.42" height="13.24" fill="#0000cd"/>
<rect x="1408.5" y="362.7" width="14.42" height="13.24" fill="#004dff"/>
<rect x="1422.67" y="362.7" width="14.42" height="13.24" fill="#0000cd"/>
<rect x="1436.85" y="362.7" width="14.42" height="13.24" fill="#000080"/>
<rect x="1451.02" y="362.7" width="14.42" height="13.24" fill="#004dff"/>
<rect x="1465.2" y="362.7" width="14.42" height="13.24" fill="#000080"/>
<rect x="1479.38" y="362.7" width="14.42" height="13.24" fill="#0000cd"/>
<rect x="1507.73" y="362.7" width="14.42" height="13.24" fill="#0000cd"/>
<rect x="1365.97" y="375.71" width="14.42" height="13.24" fill="#000080"/>
<rect x="1408.5" y="375.71" width="14.42" height="13.24" fill="#0000cd"/>
<rect x="1422.67" y="375.71" width="14.42" height="13.24" fill="#0000cd"/>
<rect x="1436.85" y="375.71" width="14.42" height="13.24" fill="#0000cd"/>
<rect x="1451.02" y="375.71" width="14.42" height="13.24" fill="#0000cd"/>
<rect x="1493.55" y="375.71" width="14.42" height="13.24" fill="#0000cd"/>
<rect x="1507.73" y="375.71" width="14.42" height="13.24" fill="#0000cd"/>
<rect x="1536.08" y="375.71" width="14.42" height="13.24" fill="#000080"/>
<rect x="1365.97" y="388.71" width="14.42" height="13.24" fill="#000080"/>
<rect x="1380.14" y="388.71" width="14.42" height="13.24" fill="#000080"/>
<rect x="1394.32" y="388.71" width="14.42" height="13.24" fill="#0000cd"/>
<rect x="1422.67" y="388.71" width="14.42" height="13.24" fill="#0000cd"/>
<rect x="1436.85" y="388.71" width="14.42" height="13.24" fill="#0008ff"/>
<rect x="1465.2" y="388.71" width="14.42" height="13.24" fill="#0000cd"/>
<rect x="1493.55" y="388.71" width="14.42" height="13.24" fill="#000080"/>
<rect x="1536.08" y="388.71" width="14.42" height="13.24" fill="#000080"/>
<rect x="1394.32" y="401.71" width="14.42" height="13.24" fill="#0000cd"/>
<rect x="1408.5" y="401.71" width="14.42" height="13.24" fill="#000080"/>
<rect x="1422.67" y="401.71" width="14.42" height="13.24" fill="#0000cd"/>
<rect x="1436.85" y="401.71" width="14.42" height="13.24" fill="#000080"/>
<rect x="1451.02" y="401.71" width="14.42" height="13.24" fill="#0000cd"/>
<rect x="1465.2" y="401.71" width="14.42" height="13.24" fill="#000080"/>
<rect x="1479.38" y="401.71" width="14.42" height="13.24" fill="#000080"/>
<rect x="1493.55" y="401.71" width="14.42" height="13.24" fill="#0000cd"/>
<rect x="1507.73" y="401.71" width="14.42" height="13.24" fill="#0000cd"/>
<rect x="1536.08" y="401.71" width="14.42" height="13.24" fill="#0000cd"/>
<rect x="1550.26" y="401.71" width="14.42" height="13.24" fill="#000080"/>
<rect x="1380.14" y="414.72" width="14.42" height="13.24" fill="#000080"/>
<rect x="1394.32" y="414.72" width="14.42" height="13.24" fill="#000080"/>
<rect x="1422.67" y="414.72" width="14.42" height="13.24" fill="#0008ff"/>
<rect x="1451.02" y="414.72" width="14.42" height="13.24" fill="#004dff"/>
<rect x="1493.55" y="414.72" width="14.42" height="13.24" fill="#000080"/>
<rect x="1507.73" y="414.72" width="14.42" height="13.24" fill="#004dff"/>
<rect x="1536.08" y="414.72" width="14.42" height="13.24" fill="#000080"/>
<rect x="1365.97" y="427.72" width="14.42" height="13.24" fill="#000080"/>
<rect x="1380.14" y="427.72" width="14.42" height="13.24" fill="#000080"/>
<rect x="1408.5" y="427.72" width="14.42" height="13.24" fill="#004dff"/>
<rect x="1422.67" y="427.72" width="14.42" height="13.24" fill="#0000cd"/>
<rect x="1436.85" y="427.72" width="14.42" height="13.24" fill="#0008ff"/>
<rect x="1507.73" y="427.72" width="14.42" height="13.24" fill="#000080"/>
<rect x="1521.9" y="427.72" width="14.42" height="13.24" fill="#0008ff"/>
<rect x="1536.08" y="427.72" width="14.42" height="13.24" fill="#000080"/>
<rect x="1394.32" y="440.72" width="14.42" height="13.24" fill="#000080"/>
<rect x="1451.02" y="440.72" width="14.42" height="13.24" fill="#0008ff"/>
<rect x="1507.73" y="440.72" width="14.42" height="13.24" fill="#000080"/>
<rect x="1536.08" y="440.72" width="14.42" height="13.24" fill="#000080"/>
<rect x="1635.31" y="440.72" width="14.42" height="13.24" fill="#000080"/>
<rect x="1408.5" y="453.73" width="14.42" height="13.24" fill="#000080"/>
<rect x="1436.85" y="453.73" width="14.42" height="13.24" fill="#000080"/>
<rect x="1451.02" y="453.73" width="14.42" height="13.24" fill="#000080"/>
<rect x="1493.55" y="453.73" width="14.42" height="13.24" fill="#000080"/>
<rect x="1507.73" y="453.73" width="14.42" height="13.24" fill="#000080"/>
<rect x="1521.9" y="453.73" width="14.42" height="13.24" fill="#000080"/>
<rect x="1536.08" y="453.73" width="14.42" height="13.24" fill="#000080"/>
<rect x="1649.49" y="453.73" width="14.42" height="13.24" fill="#004dff"/>
<rect x="1663.66" y="453.73" width="14.42" height="13.24" fill="#000080"/>
<rect x="1479.38" y="466.73" width="14.42" height="13.24" fill="#000080"/>
<rect x="1493.55" y="466.73" width="14.42" height="13.24" fill="#000080"/>
<rect x="1521.9" y="466.73" width="14.42" height="13.24" fill="#0000cd"/>
<rect x="1564.43" y="466.73" width="14.42" height="13.24" fill="#000080"/>
<rect x="1422.67" y="479.73" width="14.42" height="13.24" fill="#000080"/>
<rect x="1436.85" y="479.73" width="14.42" height="13.24" fill="#000080"/>
<rect x="1507.73" y="479.73" width="14.42" height="13.24" fill="#000080"/>
<rect x="1550.26" y="479.73" width="14.42" height="13.24" fill="#000080"/>
<rect x="1564.43" y="479.73" width="14.42" height="13.24" fill="#000080"/>
<rect x="1578.61" y="479.73" width="14.42" height="13.24" fill="#000080"/>
<rect x="1493.55" y="492.74" width="14.42" height="13.24" fill="#000080"/>
<rect x="1550.26" y="492.74" width="14.42" height="13.24" fill="#000080"/>
<rect x="1606.96" y="492.74" width="14.42" height="13.24" fill="#000080"/>
<rect x="1507.73" y="505.74" width="14.42" height="13.24" fill="#000080"/>
<rect x="1578.61" y="505.74" width="14.42" height="13.24" fill="#000080"/>
<rect x="1621.14" y="505.74" width="14.42" height="13.24" fill="#000080"/>
<rect x="1649.49" y="505.74" width="14.42" height="13.24" fill="#000080"/>
<rect x="1663.66" y="505.74" width="14.42" height="13.24" fill="#000080"/>
<rect x="1677.84" y="505.74" width="14.42" height="13.24" fill="#000080"/>
<rect x="1564.43" y="518.74" width="14.42" height="13.24" fill="#000080"/>
<rect x="1592.78" y="518.74" width="14.42" height="13.24" fill="#000080"/>
<rect x="1606.96" y="518.74" width="14.42" height="13.24" fill="#000080"/>
<rect x="1706.19" y="518.74" width="14.42" height="13.24" fill="#000080"/>
<rect x="1592.78" y="531.74" width="14.42" height="13.24" fill="#000080"/>
<rect x="1677.84" y="531.74" width="14.42" height="13.24" fill="#000080"/>
<rect x="1692.02" y="531.74" width="14.42" height="13.24" fill="#000080"/>
<rect x="1706.19" y="531.74" width="14.42" height="13.24" fill="#0008ff"/>
<rect x="1734.54" y="531.74" width="14.42" height="13.24" fill="#000080"/>
<rect x="1777.07" y="531.74" width="14.42" height="13.24" fill="#000080"/>
<rect x="1706.19" y="544.75" width="14.42" height="13.24" fill="#0000cd"/>
<rect x="1720.37" y="544.75" width="14.42" height="13.24" fill="#000080"/>
<rect x="1762.9" y="544.75" width="14.42" height="13.24" fill="#000080"/>
<rect x="1777.07" y="544.75" width="14.42" height="13.24" fill="#0008ff"/>
<rect x="1791.25" y="544.75" width="14.42" height="13.24" fill="#000080"/>
<rect x="1706.19" y="557.75" width="14.42" height="13.24" fill="#000080"/>
<rect x="1734.54" y="557.75" width="14.42" height="13.24" fill="#0000cd"/>
<rect x="1748.72" y="557.75" width="14.42" height="13.24" fill="#0000cd"/>
<rect x="1762.9" y="557.75" width="14.42" height="13.24" fill="#000080"/>
<rect x="1777.07" y="557.75" width="14.42" height="13.24" fill="#0000cd"/>
<rect x="1720.37" y="570.75" width="14.42" height="13.24" fill="#000080"/>
<rect x="1748.72" y="570.75" width="14.42" height="13.24" fill="#0008ff"/>
<rect x="1777.07" y="570.75" width="14.42" height="13.24" fill="#000080"/>
<rect x="1791.25" y="570.75" width="14.42" height="13.24" fill="#0008ff"/>
<rect x="1805.42" y="570.75" width="14.42" height="13.24" fill="#0000cd"/>
<rect x="1635.31" y="583.76" width="14.42" height="13.24" fill="#000080"/>
<rect x="1720.37" y="583.76" width="14.42" height="13.24" fill="#0008ff"/>
<rect x="1734.54" y="583.76" width="14.42" height="13.24" fill="#000080"/>
<rect x="1748.72" y="583.76" width="14.42" height="13.24" fill="#000080"/>
<rect x="1777.07" y="583.76" width="14.42" height="13.24" fill="#0000cd"/>
<rect x="1791.25" y="583.76" width="14.42" height="13.24" fill="#004dff"/>
<rect x="1805.42" y="583.76" width="14.42" height="13.24" fill="#0000cd"/>
<rect x="1734.54" y="596.76" width="14.42" height="13.24" fill="#0008ff"/>
<rect x="1748.72" y="596.76" width="14.42" height="13.24" fill="#0000cd"/>
<rect x="1762.9" y="596.76" width="14.42" height="13.24" fill="#0008ff"/>
<rect x="1777.07" y="596.76" width="14.42" height="13.24" fill="#000080"/>
<rect x="1791.25" y="596.76" width="14.42" height="13.24" fill="#0090ff"/>
<rect x="1748.72" y="609.76" width="14.42" height="13.24" fill="#0000cd"/>
<rect x="1762.9" y="609.76" width="14.42" height="13.24" fill="#0000cd"/>
<rect x="1777.07" y="609.76" width="14.42" height="13.24" fill="#0008ff"/>
<rect x="1791.25" y="609.76" width="14.42" height="13.24" fill="#0090ff"/>
<rect x="1805.42" y="609.76" width="14.42" height="13.24" fill="#0000cd"/>
<rect x="1819.6" y="609.76" width="14.42" height="13.24" fill="#29ffce"/>
<rect x="1833.78" y="609.76" width="14.42" height="13.24" fill="#cd0000"/>
<rect x="1847.95" y="609.76" width="14.42" height="13.24" fill="#0008ff"/>
<rect x="1748.72" y="622.76" width="14.42" height="13.24" fill="#0090ff"/>
<rect x="1762.9" y="622.76" width="14.42" height="13.24" fill="#29ffce"/>
<rect x="1777.07" y="622.76" width="14.42" height="13.24" fill="#60ff97"/>
<rect x="1791.25" y="622.76" width="14.42" height="13.24" fill="#0090ff"/>
<rect x="1805.42" y="622.76" width="14.42" height="13.24" fill="#004dff"/>
<rect x="1819.6" y="622.76" width="14.42" height="13.24" fill="#ceff29"/>
<rect x="1833.78" y="622.76" width="14.42" height="13.24" fill="#cd0000"/>
<rect x="1847.95" y="622.76" width="14.42" height="13.24" fill="#cd0000"/>
<rect x="1734.54" y="635.77" width="14.42" height="13.24" fill="#004dff"/>
<rect x="1748.72" y="635.77" width="14.42" height="13.24" fill="#ffa700"/>
<rect x="1762.9" y="635.77" width="14.42" height="13.24" fill="#ff6800"/>
<rect x="1777.07" y="635.77" width="14.42" height="13.24" fill="#97ff60"/>
<rect x="1791.25" y="635.77" width="14.42" height="13.24" fill="#0000cd"/>
<rect x="1805.42" y="635.77" width="14.42" height="13.24" fill="#0090ff"/>
<rect x="1819.6" y="635.77" width="14.42" height="13.24" fill="#0000cd"/>
<rect x="1833.78" y="635.77" width="14.42" height="13.24" fill="#800000"/>
<rect x="1847.95" y="635.77" width="14.42" height="13.24" fill="#ff6800"/>
<rect x="1720.37" y="648.77" width="14.42" height="13.24" fill="#000080"/>
<rect x="1734.54" y="648.77" width="14.42" height="13.24" fill="#29ffce"/>
<rect x="1748.72" y="648.77" width="14.42" height="13.24" fill="#97ff60"/>
<rect x="1762.9" y="648.77" width="14.42" height="13.24" fill="#29ffce"/>
<rect x="1777.07" y="648.77" width="14.42" height="13.24" fill="#00d4ff"/>
<rect x="1791.25" y="648.77" width="14.42" height="13.24" fill="#004dff"/>
<rect x="1805.42" y="648.77" width="14.42" height="13.24" fill="#0090ff"/>
<rect x="1819.6" y="648.77" width="14.42" height="13.24" fill="#0090ff"/>
<rect x="1847.95" y="648.77" width="14.42" height="13.24" fill="#0008ff"/>
<rect x="1706.19" y="661.77" width="14.42" height="13.24" fill="#000080"/>
<rect x="1734.54" y="661.77" width="14.42" height="13.24" fill="#0090ff"/>
<rect x="1748.72" y="661.77" width="14.42" height="13.24" fill="#ffe600"/>
<rect x="1762.9" y="661.77" width="14.42" height="13.24" fill="#ffe600"/>
<rect x="1777.07" y="661.77" width="14.42" height="13.24" fill="#00d4ff"/>
<rect x="1791.25" y="661.77" width="14.42" height="13.24" fill="#00d4ff"/>
<rect x="1805.42" y="661.77" width="14.42" height="13.24" fill="#800000"/>
<rect x="1819.6" y="661.77" width="14.42" height="13.24" fill="#97ff60"/>
<rect x="1833.78" y="661.77" width="14.42" height="13.24" fill="#ceff29"/>
<rect x="1847.95" y="661.77" width="14.42" height="13.24" fill="#000080"/>
<rect x="1734.54" y="674.78" width="14.42" height="13.24" fill="#0000cd"/>
<rect x="1748.72" y="674.78" width="14.42" height="13.24" fill="#000080"/>
<rect x="1762.9" y="674.78" width="14.42" height="13.24" fill="#000080"/>
<rect x="1777.07" y="674.78" width="14.42" height="13.24" fill="#000080"/>
<rect x="1791.25" y="674.78" width="14.42" height="13.24" fill="#000080"/>
<rect x="1805.42" y="674.78" width="14.42" height="13.24" fill="#60ff97"/>
<rect x="1819.6" y="674.78" width="14.42" height="13.24" fill="#000080"/>
<rect x="1833.78" y="674.78" width="14.42" height="13.24" fill="#0008ff"/>
<path d="M1686.38 735L1686.38 10.6" stroke="#000" stroke-width="2.45" stroke-dasharray="8 3.38" fill="none"/>
<path d="M1171.6 531.26L1868.8 531.26" stroke="#000" stroke-width="2.45" stroke-dasharray="8 3.38" fill="none"/>
<path d="M1171.6 735v7.54M1474.59 735v7.54M1777.59 735v7.54" stroke="#000" stroke-width="1.85" fill="none"/>
<path d="M1262.81 735v4.31M1316.17 735v4.31M1354.02 735v4.31M1383.38 735v4.31M1407.38 735v4.31M1427.66 735v4.31M1445.23 735v4.31M1460.73 735v4.31M1565.81 735v4.31M1619.16 735v4.31M1657.02 735v4.31M1686.38 735v4.31M1710.37 735v4.31M1730.66 735v4.31M1748.23 735v4.31M1763.73 735v4.31M1868.8 735v4.31" stroke="#000" stroke-width="1.29" fill="none"/>
<path d="M1171.6 735h-7.54M1171.6 644.45h-7.54M1171.6 553.9h-7.54M1171.6 463.35h-7.54M1171.6 372.8h-7.54M1171.6 282.25h-7.54M1171.6 191.7h-7.54M1171.6 101.15h-7.54M1171.6 10.6h-7.54" stroke="#000" stroke-width="1.85" fill="none"/>
<path d="M1171.6 712.36h-4.31M1171.6 689.73h-4.31M1171.6 667.09h-4.31M1171.6 621.81h-4.31M1171.6 599.17h-4.31M1171.6 576.54h-4.31M1171.6 531.26h-4.31M1171.6 508.62h-4.31M1171.6 485.99h-4.31M1171.6 440.71h-4.31M1171.6 418.07h-4.31M1171.6 395.44h-4.31M1171.6 350.16h-4.31M1171.6 327.53h-4.31M1171.6 304.89h-4.31M1171.6 259.61h-4.31M1171.6 236.98h-4.31M1171.6 214.34h-4.31M1171.6 169.06h-4.31M1171.6 146.43h-4.31M1171.6 123.79h-4.31M1171.6 78.51h-4.31M1171.6 55.88h-4.31M1171.6 33.24h-4.31" stroke="#000" stroke-width="1.29" fill="none"/>
<rect x="1171.6" y="10.6" width="697.2" height="724.4" fill="none" stroke="#000" stroke-width="1.85"/>
<text x="1170.6" y="773.87" font-size="30.3" text-anchor="middle" stroke="#000">10<tspan font-size="21.21" dy="-11.51">−2</tspan></text>
<text x="1473.59" y="773.87" font-size="30.3" text-anchor="middle" stroke="#000">10<tspan font-size="21.21" dy="-11.51">−1</tspan></text>
<text x="1776.59" y="773.87" font-size="30.3" text-anchor="middle" stroke="#000">10<tspan font-size="21.21" dy="-11.51">0</tspan></text>
<text x="1156.91" y="746.44" font-size="30.3" text-anchor="end" fill="#000" stroke="#000">0</text>
<text x="1156.91" y="655.89" font-size="30.3" text-anchor="end" fill="#000" stroke="#000">20</text>
<text x="1156.91" y="565.34" font-size="30.3" text-anchor="end" fill="#000" stroke="#000">40</text>
<text x="1156.91" y="474.79" font-size="30.3" text-anchor="end" fill="#000" stroke="#000">60</text>
<text x="1156.91" y="384.24" font-size="30.3" text-anchor="end" fill="#000" stroke="#000">80</text>
<text x="1156.91" y="293.69" font-size="30.3" text-anchor="end" fill="#000" stroke="#000">100</text>
<text x="1156.91" y="203.14" font-size="30.3" text-anchor="end" fill="#000" stroke="#000">120</text>
<text x="1156.91" y="112.59" font-size="30.3" text-anchor="end" fill="#000" stroke="#000">140</text>
<text x="1156.91" y="22.04" font-size="30.3" text-anchor="end" fill="#000" stroke="#000">160</text>
<text x="1520.2" y="835" font-size="34.6" text-anchor="middle" fill="#000" stroke="#000">N<tspan font-size="24.22" dy="6.4" dx="0.62">c</tspan></text>
<text x="0" y="0" font-size="34.6" text-anchor="middle" fill="#000" stroke="#000" transform="translate(1052.3 372.8) rotate(-90)">V<tspan font-size="24.22" dy="6.4" dx="0.4">αp</tspan><tspan dy="-6.4" dx="0.8"> (km/s)</tspan></text>
<text x="1182" y="51.5" font-size="34.6" text-anchor="start" fill="#000" stroke="#000">(b)</text>
<linearGradient id="g1" x1="0" y1="1" x2="0" y2="0">
<stop offset="0%" stop-color="#000080"/>
<stop offset="0.78%" stop-color="#000089"/>
<stop offset="1.56%" stop-color="#000092"/>
<stop offset="2.34%" stop-color="#00009b"/>
<stop offset="3.12%" stop-color="#0000a4"/>
<stop offset="3.91%" stop-color="#0000ad"/>
<stop offset="4.69%" stop-color="#0000b6"/>
<stop offset="5.47%" stop-color="#0000bf"/>
<stop offset="6.25%" stop-color="#0000c8"/>
<stop offset="7.03%" stop-color="#0000d1"/>
<stop offset="7.81%" stop-color="#0000da"/>
<stop offset="8.59%" stop-color="#0000e3"/>
<stop offset="9.38%" stop-color="#0000ed"/>
<stop offset="10.16%" stop-color="#0000f6"/>
<stop offset="10.94%" stop-color="#0000ff"/>
<stop offset="11.72%" stop-color="#0000ff"/>
<stop offset="12.5%" stop-color="#0000ff"/>
<stop offset="13.28%" stop-color="#0008ff"/>
<stop offset="14.06%" stop-color="#0010ff"/>
<stop offset="14.84%" stop-color="#0018ff"/>
<stop offset="15.62%" stop-color="#0020ff"/>
<stop offset="16.41%" stop-color="#0028ff"/>
<stop offset="17.19%" stop-color="#0030ff"/>
<stop offset="17.97%" stop-color="#0038ff"/>
<stop offset="18.75%" stop-color="#0040ff"/>
<stop offset="19.53%" stop-color="#0048ff"/>
<stop offset="20.31%" stop-color="#0050ff"/>
<stop offset="21.09%" stop-color="#0058ff"/>
<stop offset="21.88%" stop-color="#0060ff"/>
<stop offset="22.66%" stop-color="#0068ff"/>
<stop offset="23.44%" stop-color="#0070ff"/>
<stop offset="24.22%" stop-color="#0078ff"/>
<stop offset="25%" stop-color="#0080ff"/>
<stop offset="25.78%" stop-color="#0089ff"/>
<stop offset="26.56%" stop-color="#0090ff"/>
<stop offset="27.34%" stop-color="#0099ff"/>
<stop offset="28.12%" stop-color="#00a0ff"/>
<stop offset="28.91%" stop-color="#00a9ff"/>
<stop offset="29.69%" stop-color="#00b0ff"/>
<stop offset="30.47%" stop-color="#00b9ff"/>
<stop offset="31.25%" stop-color="#00c0ff"/>
<stop offset="32.03%" stop-color="#00c9ff"/>
<stop offset="32.81%" stop-color="#00d0ff"/>
<stop offset="33.59%" stop-color="#00d9ff"/>
<stop offset="34.38%" stop-color="#00e0fb"/>
<stop offset="35.16%" stop-color="#02e9f4"/>
<stop offset="35.94%" stop-color="#09f0ee"/>
<stop offset="36.72%" stop-color="#0ff9e7"/>
<stop offset="37.5%" stop-color="#16ffe1"/>
<stop offset="38.28%" stop-color="#1cffdb"/>
<stop offset="39.06%" stop-color="#23ffd4"/>
<stop offset="39.84%" stop-color="#29ffce"/>
<stop offset="40.62%" stop-color="#30ffc7"/>
<stop offset="41.41%" stop-color="#36ffc1"/>
<stop offset="42.19%" stop-color="#3cffba"/>
<stop offset="42.97%" stop-color="#43ffb4"/>
<stop offset="43.75%" stop-color="#49ffad"/>
<stop offset="44.53%" stop-color="#50ffa7"/>
<stop offset="45.31%" stop-color="#56ffa0"/>
<stop offset="46.09%" stop-color="#5dff9a"/>
<stop offset="46.88%" stop-color="#63ff94"/>
<stop offset="47.66%" stop-color="#6aff8d"/>
<stop offset="48.44%" stop-color="#70ff87"/>
<stop offset="49.22%" stop-color="#77ff80"/>
<stop offset="50%" stop-color="#7dff7a"/>
<stop offset="50.78%" stop-color="#83ff73"/>
<stop offset="51.56%" stop-color="#8aff6d"/>
<stop offset="52.34%" stop-color="#90ff66"/>
<stop offset="53.12%" stop-color="#97ff60"/>
<stop offset="53.91%" stop-color="#9dff5a"/>
<stop offset="54.69%" stop-color="#a4ff53"/>
<stop offset="55.47%" stop-color="#aaff4d"/>
<stop offset="56.25%" stop-color="#b1ff46"/>
<stop offset="57.03%" stop-color="#b7ff40"/>
<stop offset="57.81%" stop-color="#beff39"/>
<stop offset="58.59%" stop-color="#c4ff33"/>
<stop offset="59.38%" stop-color="#caff2c"/>
<stop offset="60.16%" stop-color="#d1ff26"/>
<stop offset="60.94%" stop-color="#d7ff1f"/>
<stop offset="61.72%" stop-color="#deff19"/>
<stop offset="62.5%" stop-color="#e4ff13"/>
<stop offset="63.28%" stop-color="#ebff0c"/>
<stop offset="64.06%" stop-color="#f1fc06"/>
<stop offset="64.84%" stop-color="#f8f500"/>
<stop offset="65.62%" stop-color="#feed00"/>
<stop offset="66.41%" stop-color="#ffe600"/>
<stop offset="67.19%" stop-color="#ffde00"/>
<stop offset="67.97%" stop-color="#ffd700"/>
<stop offset="68.75%" stop-color="#ffd000"/>
<stop offset="69.53%" stop-color="#ffc800"/>
<stop offset="70.31%" stop-color="#ffc100"/>
<stop offset="71.09%" stop-color="#ffb900"/>
<stop offset="71.88%" stop-color="#ffb200"/>
<stop offset="72.66%" stop-color="#ffab00"/>
<stop offset="73.44%" stop-color="#ffa300"/>
<stop offset="74.22%" stop-color="#ff9c00"/>
<stop offset="75%" stop-color="#ff9400"/>
<stop offset="75.78%" stop-color="#ff8d00"/>
<stop offset="76.56%" stop-color="#ff8600"/>
<stop offset="77.34%" stop-color="#ff7e00"/>
<stop offset="78.12%" stop-color="#ff7700"/>
<stop offset="78.91%" stop-color="#ff6f00"/>
<stop offset="79.69%" stop-color="#ff6800"/>
<stop offset="80.47%" stop-color="#ff6000"/>
<stop offset="81.25%" stop-color="#ff5900"/>
<stop offset="82.03%" stop-color="#ff5200"/>
<stop offset="82.81%" stop-color="#ff4a00"/>
<stop offset="83.59%" stop-color="#ff4300"/>
<stop offset="84.38%" stop-color="#ff3b00"/>
<stop offset="85.16%" stop-color="#ff3400"/>
<stop offset="85.94%" stop-color="#ff2d00"/>
<stop offset="86.72%" stop-color="#ff2500"/>
<stop offset="87.5%" stop-color="#ff1e00"/>
<stop offset="88.28%" stop-color="#ff1600"/>
<stop offset="89.06%" stop-color="#fa0f00"/>
<stop offset="89.84%" stop-color="#f10800"/>
<stop offset="90.62%" stop-color="#e80000"/>
<stop offset="91.41%" stop-color="#df0000"/>
<stop offset="92.19%" stop-color="#d60000"/>
<stop offset="92.97%" stop-color="#cd0000"/>
<stop offset="93.75%" stop-color="#c40000"/>
<stop offset="94.53%" stop-color="#bb0000"/>
<stop offset="95.31%" stop-color="#b10000"/>
<stop offset="96.09%" stop-color="#a80000"/>
<stop offset="96.88%" stop-color="#9f0000"/>
<stop offset="97.66%" stop-color="#960000"/>
<stop offset="98.44%" stop-color="#8d0000"/>
<stop offset="99.22%" stop-color="#840000"/>
<stop offset="100%" stop-color="#800000"/>
</linearGradient>
<rect x="1912.3" y="10.6" width="36.2" height="724.4" fill="url(#g1)" stroke="#000" stroke-width="1.85"/>
<text x="1963.59" y="697.75" font-size="30.3" text-anchor="start" fill="#000" stroke="#000">2</text>
<text x="1963.59" y="601.16" font-size="30.3" text-anchor="start" fill="#000" stroke="#000">4</text>
<text x="1963.59" y="504.58" font-size="30.3" text-anchor="start" fill="#000" stroke="#000">6</text>
<text x="1963.59" y="407.99" font-size="30.3" text-anchor="start" fill="#000" stroke="#000">8</text>
<text x="1963.59" y="311.4" font-size="30.3" text-anchor="start" fill="#000" stroke="#000">10</text>
<text x="1963.59" y="214.82" font-size="30.3" text-anchor="start" fill="#000" stroke="#000">12</text>
<text x="1963.59" y="118.23" font-size="30.3" text-anchor="start" fill="#000" stroke="#000">14</text>
<text x="1963.59" y="21.64" font-size="30.3" text-anchor="start" fill="#000" stroke="#000">16</text>
<path d="M1948.5 686.71h7.54M1948.5 590.12h7.54M1948.5 493.53h7.54M1948.5 396.95h7.54M1948.5 300.36h7.54M1948.5 203.77h7.54M1948.5 107.19h7.54M1948.5 10.6h7.54" stroke="#000" stroke-width="1.85" fill="none"/>
<rect x="1380.14" y="1009.88" width="14.42" height="12.17" fill="#000080"/>
<rect x="1394.32" y="1009.88" width="14.42" height="12.17" fill="#000080"/>
<rect x="1380.14" y="1021.81" width="14.42" height="12.17" fill="#000080"/>
<rect x="1365.97" y="1045.68" width="14.42" height="12.17" fill="#000080"/>
<rect x="1394.32" y="1045.68" width="14.42" height="12.17" fill="#000080"/>
<rect x="1394.32" y="1069.54" width="14.42" height="12.17" fill="#000080"/>
<rect x="1408.5" y="1069.54" width="14.42" height="12.17" fill="#0000bb"/>
<rect x="1408.5" y="1105.34" width="14.42" height="12.17" fill="#000080"/>
<rect x="1422.67" y="1117.27" width="14.42" height="12.17" fill="#000080"/>
<rect x="1365.97" y="1129.2" width="14.42" height="12.17" fill="#000080"/>
<rect x="1408.5" y="1129.2" width="14.42" height="12.17" fill="#000080"/>
<rect x="1365.97" y="1141.13" width="14.42" height="12.17" fill="#000080"/>
<rect x="1394.32" y="1141.13" width="14.42" height="12.17" fill="#000080"/>
<rect x="1408.5" y="1141.13" width="14.42" height="12.17" fill="#000080"/>
<rect x="1422.67" y="1141.13" width="14.42" height="12.17" fill="#0000bb"/>
<rect x="1436.85" y="1141.13" width="14.42" height="12.17" fill="#000080"/>
<rect x="1422.67" y="1153.06" width="14.42" height="12.17" fill="#000080"/>
<rect x="1408.5" y="1165" width="14.42" height="12.17" fill="#0000bb"/>
<rect x="1422.67" y="1165" width="14.42" height="12.17" fill="#0000bb"/>
<rect x="1436.85" y="1165" width="14.42" height="12.17" fill="#000080"/>
<rect x="1408.5" y="1176.93" width="14.42" height="12.17" fill="#0000bb"/>
<rect x="1422.67" y="1176.93" width="14.42" height="12.17" fill="#000080"/>
<rect x="1465.2" y="1176.93" width="14.42" height="12.17" fill="#0000bb"/>
<rect x="1380.14" y="1188.86" width="14.42" height="12.17" fill="#0000bb"/>
<rect x="1394.32" y="1188.86" width="14.42" height="12.17" fill="#000080"/>
<rect x="1422.67" y="1188.86" width="14.42" height="12.17" fill="#0000bb"/>
<rect x="1436.85" y="1188.86" width="14.42" height="12.17" fill="#0055ff"/>
<rect x="1451.02" y="1188.86" width="14.42" height="12.17" fill="#0000bb"/>
<rect x="1465.2" y="1188.86" width="14.42" height="12.17" fill="#000080"/>
<rect x="1493.55" y="1188.86" width="14.42" height="12.17" fill="#000080"/>
<rect x="1394.32" y="1200.79" width="14.42" height="12.17" fill="#000080"/>
<rect x="1408.5" y="1200.79" width="14.42" height="12.17" fill="#000080"/>
<rect x="1422.67" y="1200.79" width="14.42" height="12.17" fill="#0000bb"/>
<rect x="1436.85" y="1200.79" width="14.42" height="12.17" fill="#0020ff"/>
<rect x="1451.02" y="1200.79" width="14.42" height="12.17" fill="#000080"/>
<rect x="1465.2" y="1200.79" width="14.42" height="12.17" fill="#000080"/>
<rect x="1394.32" y="1212.72" width="14.42" height="12.17" fill="#000080"/>
<rect x="1422.67" y="1212.72" width="14.42" height="12.17" fill="#0000bb"/>
<rect x="1436.85" y="1212.72" width="14.42" height="12.17" fill="#0000bb"/>
<rect x="1451.02" y="1212.72" width="14.42" height="12.17" fill="#0000f6"/>
<rect x="1465.2" y="1212.72" width="14.42" height="12.17" fill="#0000f6"/>
<rect x="1507.73" y="1212.72" width="14.42" height="12.17" fill="#0000bb"/>
<rect x="1394.32" y="1224.66" width="14.42" height="12.17" fill="#0000f6"/>
<rect x="1408.5" y="1224.66" width="14.42" height="12.17" fill="#0000bb"/>
<rect x="1422.67" y="1224.66" width="14.42" height="12.17" fill="#008cff"/>
<rect x="1436.85" y="1224.66" width="14.42" height="12.17" fill="#0055ff"/>
<rect x="1451.02" y="1224.66" width="14.42" height="12.17" fill="#000080"/>
<rect x="1465.2" y="1224.66" width="14.42" height="12.17" fill="#0000f6"/>
<rect x="1479.38" y="1224.66" width="14.42" height="12.17" fill="#0000bb"/>
<rect x="1493.55" y="1224.66" width="14.42" height="12.17" fill="#0000f6"/>
<rect x="1507.73" y="1224.66" width="14.42" height="12.17" fill="#000080"/>
<rect x="1380.14" y="1236.59" width="14.42" height="12.17" fill="#000080"/>
<rect x="1422.67" y="1236.59" width="14.42" height="12.17" fill="#000080"/>
<rect x="1436.85" y="1236.59" width="14.42" height="12.17" fill="#0020ff"/>
<rect x="1451.02" y="1236.59" width="14.42" height="12.17" fill="#00c0ff"/>
<rect x="1465.2" y="1236.59" width="14.42" height="12.17" fill="#0055ff"/>
<rect x="1479.38" y="1236.59" width="14.42" height="12.17" fill="#0000f6"/>
<rect x="1493.55" y="1236.59" width="14.42" height="12.17" fill="#0000bb"/>
<rect x="1507.73" y="1236.59" width="14.42" height="12.17" fill="#0000f6"/>
<rect x="1521.9" y="1236.59" width="14.42" height="12.17" fill="#000080"/>
<rect x="1351.79" y="1248.52" width="14.42" height="12.17" fill="#000080"/>
<rect x="1408.5" y="1248.52" width="14.42" height="12.17" fill="#0000f6"/>
<rect x="1422.67" y="1248.52" width="14.42" height="12.17" fill="#0020ff"/>
<rect x="1436.85" y="1248.52" width="14.42" height="12.17" fill="#0000f6"/>
<rect x="1451.02" y="1248.52" width="14.42" height="12.17" fill="#0ff9e7"/>
<rect x="1465.2" y="1248.52" width="14.42" height="12.17" fill="#0020ff"/>
<rect x="1479.38" y="1248.52" width="14.42" height="12.17" fill="#008cff"/>
<rect x="1493.55" y="1248.52" width="14.42" height="12.17" fill="#39ffbe"/>
<rect x="1507.73" y="1248.52" width="14.42" height="12.17" fill="#0000bb"/>
<rect x="1337.62" y="1260.45" width="14.42" height="12.17" fill="#000080"/>
<rect x="1365.97" y="1260.45" width="14.42" height="12.17" fill="#000080"/>
<rect x="1380.14" y="1260.45" width="14.42" height="12.17" fill="#0000bb"/>
<rect x="1422.67" y="1260.45" width="14.42" height="12.17" fill="#000080"/>
<rect x="1436.85" y="1260.45" width="14.42" height="12.17" fill="#39ffbe"/>
<rect x="1451.02" y="1260.45" width="14.42" height="12.17" fill="#00c0ff"/>
<rect x="1465.2" y="1260.45" width="14.42" height="12.17" fill="#0020ff"/>
<rect x="1479.38" y="1260.45" width="14.42" height="12.17" fill="#008cff"/>
<rect x="1493.55" y="1260.45" width="14.42" height="12.17" fill="#008cff"/>
<rect x="1507.73" y="1260.45" width="14.42" height="12.17" fill="#000080"/>
<rect x="1521.9" y="1260.45" width="14.42" height="12.17" fill="#000080"/>
<rect x="1323.44" y="1272.38" width="14.42" height="12.17" fill="#0000bb"/>
<rect x="1365.97" y="1272.38" width="14.42" height="12.17" fill="#0000bb"/>
<rect x="1394.32" y="1272.38" width="14.42" height="12.17" fill="#0000bb"/>
<rect x="1408.5" y="1272.38" width="14.42" height="12.17" fill="#0000bb"/>
<rect x="1422.67" y="1272.38" width="14.42" height="12.17" fill="#0000bb"/>
<rect x="1436.85" y="1272.38" width="14.42" height="12.17" fill="#000080"/>
<rect x="1451.02" y="1272.38" width="14.42" height="12.17" fill="#000080"/>
<rect x="1465.2" y="1272.38" width="14.42" height="12.17" fill="#0000f6"/>
<rect x="1479.38" y="1272.38" width="14.42" height="12.17" fill="#0000bb"/>
<rect x="1493.55" y="1272.38" width="14.42" height="12.17" fill="#0000bb"/>
<rect x="1507.73" y="1272.38" width="14.42" height="12.17" fill="#000080"/>
<rect x="1521.9" y="1272.38" width="14.42" height="12.17" fill="#000080"/>
<rect x="1210.03" y="1284.32" width="14.42" height="12.17" fill="#000080"/>
<rect x="1309.26" y="1284.32" width="14.42" height="12.17" fill="#000080"/>
<rect x="1337.62" y="1284.32" width="14.42" height="12.17" fill="#000080"/>
<rect x="1351.79" y="1284.32" width="14.42" height="12.17" fill="#0000bb"/>
<rect x="1365.97" y="1284.32" width="14.42" height="12.17" fill="#0000bb"/>
<rect x="1380.14" y="1284.32" width="14.42" height="12.17" fill="#000080"/>
<rect x="1394.32" y="1284.32" width="14.42" height="12.17" fill="#000080"/>
<rect x="1408.5" y="1284.32" width="14.42" height="12.17" fill="#0055ff"/>
<rect x="1422.67" y="1284.32" width="14.42" height="12.17" fill="#000080"/>
<rect x="1436.85" y="1284.32" width="14.42" height="12.17" fill="#0000f6"/>
<rect x="1451.02" y="1284.32" width="14.42" height="12.17" fill="#0000bb"/>
<rect x="1465.2" y="1284.32" width="14.42" height="12.17" fill="#0000f6"/>
<rect x="1479.38" y="1284.32" width="14.42" height="12.17" fill="#0055ff"/>
<rect x="1493.55" y="1284.32" width="14.42" height="12.17" fill="#0020ff"/>
<rect x="1507.73" y="1284.32" width="14.42" height="12.17" fill="#0000f6"/>
<rect x="1224.21" y="1296.25" width="14.42" height="12.17" fill="#000080"/>
<rect x="1309.26" y="1296.25" width="14.42" height="12.17" fill="#000080"/>
<rect x="1337.62" y="1296.25" width="14.42" height="12.17" fill="#0000f6"/>
<rect x="1351.79" y="1296.25" width="14.42" height="12.17" fill="#000080"/>
<rect x="1365.97" y="1296.25" width="14.42" height="12.17" fill="#000080"/>
<rect x="1408.5" y="1296.25" width="14.42" height="12.17" fill="#0000f6"/>
<rect x="1422.67" y="1296.25" width="14.42" height="12.17" fill="#000080"/>
<rect x="1436.85" y="1296.25" width="14.42" height="12.17" fill="#0000bb"/>
<rect x="1451.02" y="1296.25" width="14.42" height="12.17" fill="#0000f6"/>
<rect x="1465.2" y="1296.25" width="14.42" height="12.17" fill="#0000bb"/>
<rect x="1479.38" y="1296.25" width="14.42" height="12.17" fill="#0000bb"/>
<rect x="1493.55" y="1296.25" width="14.42" height="12.17" fill="#0020ff"/>
<rect x="1507.73" y="1296.25" width="14.42" height="12.17" fill="#0000bb"/>
<rect x="1521.9" y="1296.25" width="14.42" height="12.17" fill="#0000bb"/>
<rect x="1295.09" y="1308.18" width="14.42" height="12.17" fill="#000080"/>
<rect x="1309.26" y="1308.18" width="14.42" height="12.17" fill="#000080"/>
<rect x="1323.44" y="1308.18" width="14.42" height="12.17" fill="#000080"/>
<rect x="1351.79" y="1308.18" width="14.42" height="12.17" fill="#000080"/>
<rect x="1394.32" y="1308.18" width="14.42" height="12.17" fill="#0000f6"/>
<rect x="1408.5" y="1308.18" width="14.42" height="12.17" fill="#000080"/>
<rect x="1422.67" y="1308.18" width="14.42" height="12.17" fill="#0000f6"/>
<rect x="1451.02" y="1308.18" width="14.42" height="12.17" fill="#0000bb"/>
<rect x="1465.2" y="1308.18" width="14.42" height="12.17" fill="#0000bb"/>
<rect x="1479.38" y="1308.18" width="14.42" height="12.17" fill="#0000f6"/>
<rect x="1493.55" y="1308.18" width="14.42" height="12.17" fill="#0000bb"/>
<rect x="1507.73" y="1308.18" width="14.42" height="12.17" fill="#0020ff"/>
<rect x="1521.9" y="1308.18" width="14.42" height="12.17" fill="#000080"/>
<rect x="1224.21" y="1320.11" width="14.42" height="12.17" fill="#000080"/>
<rect x="1238.38" y="1320.11" width="14.42" height="12.17" fill="#000080"/>
<rect x="1295.09" y="1320.11" width="14.42" height="12.17" fill="#000080"/>
<rect x="1309.26" y="1320.11" width="14.42" height="12.17" fill="#000080"/>
<rect x="1323.44" y="1320.11" width="14.42" height="12.17" fill="#000080"/>
<rect x="1337.62" y="1320.11" width="14.42" height="12.17" fill="#000080"/>
<rect x="1394.32" y="1320.11" width="14.42" height="12.17" fill="#0000bb"/>
<rect x="1408.5" y="1320.11" width="14.42" height="12.17" fill="#000080"/>
<rect x="1422.67" y="1320.11" width="14.42" height="12.17" fill="#0000f6"/>
<rect x="1436.85" y="1320.11" width="14.42" height="12.17" fill="#0000bb"/>
<rect x="1451.02" y="1320.11" width="14.42" height="12.17" fill="#000080"/>
<rect x="1479.38" y="1320.11" width="14.42" height="12.17" fill="#000080"/>
<rect x="1507.73" y="1320.11" width="14.42" height="12.17" fill="#008cff"/>
<rect x="1521.9" y="1320.11" width="14.42" height="12.17" fill="#0000f6"/>
<rect x="1536.08" y="1320.11" width="14.42" height="12.17" fill="#000080"/>
<rect x="1238.38" y="1332.04" width="14.42" height="12.17" fill="#000080"/>
<rect x="1266.74" y="1332.04" width="14.42" height="12.17" fill="#000080"/>
<rect x="1280.91" y="1332.04" width="14.42" height="12.17" fill="#0000bb"/>
<rect x="1309.26" y="1332.04" width="14.42" height="12.17" fill="#000080"/>
<rect x="1323.44" y="1332.04" width="14.42" height="12.17" fill="#0000bb"/>
<rect x="1351.79" y="1332.04" width="14.42" height="12.17" fill="#000080"/>
<rect x="1365.97" y="1332.04" width="14.42" height="12.17" fill="#000080"/>
<rect x="1408.5" y="1332.04" width="14.42" height="12.17" fill="#000080"/>
<rect x="1422.67" y="1332.04" width="14.42" height="12.17" fill="#000080"/>
<rect x="1436.85" y="1332.04" width="14.42" height="12.17" fill="#0000bb"/>
<rect x="1493.55" y="1332.04" width="14.42" height="12.17" fill="#0000f6"/>
<rect x="1507.73" y="1332.04" width="14.42" height="12.17" fill="#0000bb"/>
<rect x="1521.9" y="1332.04" width="14.42" height="12.17" fill="#000080"/>
<rect x="1536.08" y="1332.04" width="14.42" height="12.17" fill="#0000bb"/>
<rect x="1550.26" y="1332.04" width="14.42" height="12.17" fill="#000080"/>
<rect x="1252.56" y="1343.98" width="14.42" height="12.17" fill="#000080"/>
<rect x="1309.26" y="1343.98" width="14.42" height="12.17" fill="#000080"/>
<rect x="1351.79" y="1343.98" width="14.42" height="12.17" fill="#000080"/>
<rect x="1380.14" y="1343.98" width="14.42" height="12.17" fill="#0000bb"/>
<rect x="1436.85" y="1343.98" width="14.42" height="12.17" fill="#000080"/>
<rect x="1451.02" y="1343.98" width="14.42" height="12.17" fill="#0000f6"/>
<rect x="1465.2" y="1343.98" width="14.42" height="12.17" fill="#000080"/>
<rect x="1493.55" y="1343.98" width="14.42" height="12.17" fill="#000080"/>
<rect x="1521.9" y="1343.98" width="14.42" height="12.17" fill="#000080"/>
<rect x="1536.08" y="1343.98" width="14.42" height="12.17" fill="#0000bb"/>
<rect x="1635.31" y="1343.98" width="14.42" height="12.17" fill="#000080"/>
<rect x="1181.68" y="1355.91" width="14.42" height="12.17" fill="#000080"/>
<rect x="1323.44" y="1355.91" width="14.42" height="12.17" fill="#000080"/>
<rect x="1408.5" y="1355.91" width="14.42" height="12.17" fill="#000080"/>
<rect x="1436.85" y="1355.91" width="14.42" height="12.17" fill="#0000bb"/>
<rect x="1465.2" y="1355.91" width="14.42" height="12.17" fill="#0000f6"/>
<rect x="1479.38" y="1355.91" width="14.42" height="12.17" fill="#000080"/>
<rect x="1493.55" y="1355.91" width="14.42" height="12.17" fill="#000080"/>
<rect x="1536.08" y="1355.91" width="14.42" height="12.17" fill="#0000bb"/>
<rect x="1550.26" y="1355.91" width="14.42" height="12.17" fill="#000080"/>
<rect x="1564.43" y="1355.91" width="14.42" height="12.17" fill="#000080"/>
<rect x="1394.32" y="1367.84" width="14.42" height="12.17" fill="#000080"/>
<rect x="1422.67" y="1367.84" width="14.42" height="12.17" fill="#000080"/>
<rect x="1436.85" y="1367.84" width="14.42" height="12.17" fill="#000080"/>
<rect x="1493.55" y="1367.84" width="14.42" height="12.17" fill="#0000bb"/>
<rect x="1507.73" y="1367.84" width="14.42" height="12.17" fill="#0000bb"/>
<rect x="1521.9" y="1367.84" width="14.42" height="12.17" fill="#0000f6"/>
<rect x="1536.08" y="1367.84" width="14.42" height="12.17" fill="#000080"/>
<rect x="1564.43" y="1367.84" width="14.42" height="12.17" fill="#0000bb"/>
<rect x="1578.61" y="1367.84" width="14.42" height="12.17" fill="#000080"/>
<rect x="1195.86" y="1379.77" width="14.42" height="12.17" fill="#000080"/>
<rect x="1266.74" y="1379.77" width="14.42" height="12.17" fill="#000080"/>
<rect x="1451.02" y="1379.77" width="14.42" height="12.17" fill="#000080"/>
<rect x="1507.73" y="1379.77" width="14.42" height="12.17" fill="#0000bb"/>
<rect x="1521.9" y="1379.77" width="14.42" height="12.17" fill="#000080"/>
<rect x="1550.26" y="1379.77" width="14.42" height="12.17" fill="#000080"/>
<rect x="1578.61" y="1379.77" width="14.42" height="12.17" fill="#000080"/>
<rect x="1649.49" y="1379.77" width="14.42" height="12.17" fill="#000080"/>
<rect x="1238.38" y="1391.7" width="14.42" height="12.17" fill="#000080"/>
<rect x="1422.67" y="1391.7" width="14.42" height="12.17" fill="#000080"/>
<rect x="1436.85" y="1391.7" width="14.42" height="12.17" fill="#000080"/>
<rect x="1507.73" y="1391.7" width="14.42" height="12.17" fill="#0000bb"/>
<rect x="1592.78" y="1391.7" width="14.42" height="12.17" fill="#000080"/>
<rect x="1606.96" y="1391.7" width="14.42" height="12.17" fill="#000080"/>
<rect x="1649.49" y="1391.7" width="14.42" height="12.17" fill="#0000f6"/>
<rect x="1436.85" y="1403.64" width="14.42" height="12.17" fill="#000080"/>
<rect x="1465.2" y="1403.64" width="14.42" height="12.17" fill="#000080"/>
<rect x="1592.78" y="1403.64" width="14.42" height="12.17" fill="#000080"/>
<rect x="1649.49" y="1403.64" width="14.42" height="12.17" fill="#000080"/>
<rect x="1606.96" y="1415.57" width="14.42" height="12.17" fill="#000080"/>
<rect x="1621.14" y="1415.57" width="14.42" height="12.17" fill="#000080"/>
<rect x="1663.66" y="1415.57" width="14.42" height="12.17" fill="#000080"/>
<rect x="1635.31" y="1427.5" width="14.42" height="12.17" fill="#000080"/>
<rect x="1663.66" y="1427.5" width="14.42" height="12.17" fill="#000080"/>
<rect x="1677.84" y="1439.43" width="14.42" height="12.17" fill="#000080"/>
<rect x="1706.19" y="1439.43" width="14.42" height="12.17" fill="#0000bb"/>
<rect x="1734.54" y="1439.43" width="14.42" height="12.17" fill="#000080"/>
<rect x="1692.02" y="1451.36" width="14.42" height="12.17" fill="#000080"/>
<rect x="1706.19" y="1451.36" width="14.42" height="12.17" fill="#000080"/>
<rect x="1734.54" y="1451.36" width="14.42" height="12.17" fill="#0000bb"/>
<rect x="1706.19" y="1463.3" width="14.42" height="12.17" fill="#000080"/>
<rect x="1720.37" y="1463.3" width="14.42" height="12.17" fill="#000080"/>
<rect x="1734.54" y="1463.3" width="14.42" height="12.17" fill="#000080"/>
<rect x="1748.72" y="1463.3" width="14.42" height="12.17" fill="#0000bb"/>
<rect x="1734.54" y="1475.23" width="14.42" height="12.17" fill="#0000bb"/>
<rect x="1748.72" y="1475.23" width="14.42" height="12.17" fill="#000080"/>
<rect x="1748.72" y="1487.16" width="14.42" height="12.17" fill="#0000f6"/>
<rect x="1762.9" y="1487.16" width="14.42" height="12.17" fill="#000080"/>
<rect x="1748.72" y="1499.09" width="14.42" height="12.17" fill="#0000bb"/>
<rect x="1762.9" y="1499.09" width="14.42" height="12.17" fill="#0000bb"/>
<rect x="1677.84" y="1511.02" width="14.42" height="12.17" fill="#000080"/>
<rect x="1734.54" y="1511.02" width="14.42" height="12.17" fill="#000080"/>
<rect x="1762.9" y="1511.02" width="14.42" height="12.17" fill="#0000bb"/>
<rect x="1791.25" y="1511.02" width="14.42" height="12.17" fill="#000080"/>
<rect x="1734.54" y="1522.96" width="14.42" height="12.17" fill="#000080"/>
<rect x="1748.72" y="1522.96" width="14.42" height="12.17" fill="#000080"/>
<rect x="1762.9" y="1522.96" width="14.42" height="12.17" fill="#0000bb"/>
<rect x="1791.25" y="1522.96" width="14.42" height="12.17" fill="#0000bb"/>
<rect x="1805.42" y="1522.96" width="14.42" height="12.17" fill="#000080"/>
<rect x="1706.19" y="1534.89" width="14.42" height="12.17" fill="#000080"/>
<rect x="1734.54" y="1534.89" width="14.42" height="12.17" fill="#0055ff"/>
<rect x="1748.72" y="1534.89" width="14.42" height="12.17" fill="#0055ff"/>
<rect x="1762.9" y="1534.89" width="14.42" height="12.17" fill="#0020ff"/>
<rect x="1777.07" y="1534.89" width="14.42" height="12.17" fill="#0020ff"/>
<rect x="1791.25" y="1534.89" width="14.42" height="12.17" fill="#0020ff"/>
<rect x="1805.42" y="1534.89" width="14.42" height="12.17" fill="#0000bb"/>
<rect x="1819.6" y="1534.89" width="14.42" height="12.17" fill="#0000bb"/>
<rect x="1833.78" y="1534.89" width="14.42" height="12.17" fill="#0020ff"/>
<rect x="1720.37" y="1546.82" width="14.42" height="12.17" fill="#000080"/>
<rect x="1734.54" y="1546.82" width="14.42" height="12.17" fill="#39ffbe"/>
<rect x="1748.72" y="1546.82" width="14.42" height="12.17" fill="#ff3f00"/>
<rect x="1762.9" y="1546.82" width="14.42" height="12.17" fill="#39ffbe"/>
<rect x="1777.07" y="1546.82" width="14.42" height="12.17" fill="#39ffbe"/>
<rect x="1791.25" y="1546.82" width="14.42" height="12.17" fill="#0000f6"/>
<rect x="1805.42" y="1546.82" width="14.42" height="12.17" fill="#008cff"/>
<rect x="1819.6" y="1546.82" width="14.42" height="12.17" fill="#0055ff"/>
<rect x="1833.78" y="1546.82" width="14.42" height="12.17" fill="#beff39"/>
<rect x="1847.95" y="1546.82" width="14.42" height="12.17" fill="#0000bb"/>
<rect x="1734.54" y="1558.75" width="14.42" height="12.17" fill="#0000f6"/>
<rect x="1748.72" y="1558.75" width="14.42" height="12.17" fill="#90ff66"/>
<rect x="1762.9" y="1558.75" width="14.42" height="12.17" fill="#ffd300"/>
<rect x="1777.07" y="1558.75" width="14.42" height="12.17" fill="#00c0ff"/>
<rect x="1791.25" y="1558.75" width="14.42" height="12.17" fill="#0055ff"/>
<rect x="1805.42" y="1558.75" width="14.42" height="12.17" fill="#ff6f00"/>
<rect x="1819.6" y="1558.75" width="14.42" height="12.17" fill="#66ff90"/>
<rect x="1833.78" y="1558.75" width="14.42" height="12.17" fill="#ffa300"/>
<rect x="1847.95" y="1558.75" width="14.42" height="12.17" fill="#ff3f00"/>
<rect x="1748.72" y="1570.68" width="14.42" height="12.17" fill="#008cff"/>
<rect x="1762.9" y="1570.68" width="14.42" height="12.17" fill="#00c0ff"/>
<rect x="1777.07" y="1570.68" width="14.42" height="12.17" fill="#ffd300"/>
<rect x="1791.25" y="1570.68" width="14.42" height="12.17" fill="#008cff"/>
<rect x="1805.42" y="1570.68" width="14.42" height="12.17" fill="#66ff90"/>
<rect x="1819.6" y="1570.68" width="14.42" height="12.17" fill="#0055ff"/>
<rect x="1833.78" y="1570.68" width="14.42" height="12.17" fill="#0ff9e7"/>
<rect x="1847.95" y="1570.68" width="14.42" height="12.17" fill="#ff6f00"/>
<rect x="1706.19" y="1582.62" width="14.42" height="12.17" fill="#000080"/>
<rect x="1762.9" y="1582.62" width="14.42" height="12.17" fill="#0055ff"/>
<rect x="1777.07" y="1582.62" width="14.42" height="12.17" fill="#39ffbe"/>
<rect x="1791.25" y="1582.62" width="14.42" height="12.17" fill="#66ff90"/>
<rect x="1805.42" y="1582.62" width="14.42" height="12.17" fill="#00c0ff"/>
<rect x="1819.6" y="1582.62" width="14.42" height="12.17" fill="#beff39"/>
<rect x="1833.78" y="1582.62" width="14.42" height="12.17" fill="#800000"/>
<rect x="1706.19" y="1594.55" width="14.42" height="12.17" fill="#0000bb"/>
<rect x="1720.37" y="1594.55" width="14.42" height="12.17" fill="#0020ff"/>
<rect x="1791.25" y="1594.55" width="14.42" height="12.17" fill="#0055ff"/>
<rect x="1805.42" y="1594.55" width="14.42" height="12.17" fill="#0000bb"/>
<path d="M1686.38 1676.6L1686.38 952.2" stroke="#000" stroke-width="2.45" stroke-dasharray="8 3.38" fill="none"/>
<path d="M1171.6 1469.63L1868.8 1469.63" stroke="#000" stroke-width="2.45" stroke-dasharray="8 3.38" fill="none"/>
<path d="M1171.6 1676.6v7.54M1474.59 1676.6v7.54M1777.59 1676.6v7.54" stroke="#000" stroke-width="1.85" fill="none"/>
<path d="M1262.81 1676.6v4.31M1316.17 1676.6v4.31M1354.02 1676.6v4.31M1383.38 1676.6v4.31M1407.38 1676.6v4.31M1427.66 1676.6v4.31M1445.23 1676.6v4.31M1460.73 1676.6v4.31M1565.81 1676.6v4.31M1619.16 1676.6v4.31M1657.02 1676.6v4.31M1686.38 1676.6v4.31M1710.37 1676.6v4.31M1730.66 1676.6v4.31M1748.23 1676.6v4.31M1763.73 1676.6v4.31M1868.8 1676.6v4.31" stroke="#000" stroke-width="1.29" fill="none"/>
<path d="M1171.6 1676.6h-7.54M1171.6 1573.11h-7.54M1171.6 1469.63h-7.54M1171.6 1366.14h-7.54M1171.6 1262.66h-7.54M1171.6 1159.17h-7.54M1171.6 1055.69h-7.54M1171.6 952.2h-7.54" stroke="#000" stroke-width="1.85" fill="none"/>
<path d="M1171.6 1650.73h-4.31M1171.6 1624.86h-4.31M1171.6 1598.99h-4.31M1171.6 1547.24h-4.31M1171.6 1521.37h-4.31M1171.6 1495.5h-4.31M1171.6 1443.76h-4.31M1171.6 1417.89h-4.31M1171.6 1392.01h-4.31M1171.6 1340.27h-4.31M1171.6 1314.4h-4.31M1171.6 1288.53h-4.31M1171.6 1236.79h-4.31M1171.6 1210.91h-4.31M1171.6 1185.04h-4.31M1171.6 1133.3h-4.31M1171.6 1107.43h-4.31M1171.6 1081.56h-4.31M1171.6 1029.81h-4.31M1171.6 1003.94h-4.31M1171.6 978.07h-4.31" stroke="#000" stroke-width="1.29" fill="none"/>
<rect x="1171.6" y="952.2" width="697.2" height="724.4" fill="none" stroke="#000" stroke-width="1.85"/>
<text x="1170.6" y="1715.47" font-size="30.3" text-anchor="middle" stroke="#000">10<tspan font-size="21.21" dy="-11.51">−2</tspan></text>
<text x="1473.59" y="1715.47" font-size="30.3" text-anchor="middle" stroke="#000">10<tspan font-size="21.21" dy="-11.51">−1</tspan></text>
<text x="1776.59" y="1715.47" font-size="30.3" text-anchor="middle" stroke="#000">10<tspan font-size="21.21" dy="-11.51">0</tspan></text>
<text x="1156.91" y="1688.04" font-size="30.3" text-anchor="end" fill="#000" stroke="#000">0</text>
<text x="1156.91" y="1584.56" font-size="30.3" text-anchor="end" fill="#000" stroke="#000">2</text>
<text x="1156.91" y="1481.07" font-size="30.3" text-anchor="end" fill="#000" stroke="#000">4</text>
<text x="1156.91" y="1377.59" font-size="30.3" text-anchor="end" fill="#000" stroke="#000">6</text>
<text x="1156.91" y="1274.1" font-size="30.3" text-anchor="end" fill="#000" stroke="#000">8</text>
<text x="1156.91" y="1170.62" font-size="30.3" text-anchor="end" fill="#000" stroke="#000">10</text>
<text x="1156.91" y="1067.13" font-size="30.3" text-anchor="end" fill="#000" stroke="#000">12</text>
<text x="1156.91" y="963.64" font-size="30.3" text-anchor="end" fill="#000" stroke="#000">14</text>
<text x="1520.2" y="1777" font-size="34.6" text-anchor="middle" fill="#000" stroke="#000">N<tspan font-size="24.22" dy="6.4" dx="0.62">c</tspan></text>
<text x="0" y="0" font-size="34.6" text-anchor="middle" fill="#000" stroke="#000" word-spacing="-1.6" transform="translate(1077 1315.9) rotate(-90)">T<tspan font-size="24.22" dy="6.4" dx="0.62">α</tspan><tspan dy="-6.4" dx="0"> / </tspan>T<tspan font-size="24.22" dy="6.4" dx="0.62">p</tspan></text>
<text x="1182" y="993.1" font-size="34.6" text-anchor="start" fill="#000" stroke="#000">(d)</text>
<linearGradient id="g2" x1="0" y1="1" x2="0" y2="0">
<stop offset="0%" stop-color="#000080"/>
<stop offset="0.78%" stop-color="#000089"/>
<stop offset="1.56%" stop-color="#000092"/>
<stop offset="2.34%" stop-color="#00009b"/>
<stop offset="3.12%" stop-color="#0000a4"/>
<stop offset="3.91%" stop-color="#0000ad"/>
<stop offset="4.69%" stop-color="#0000b6"/>
<stop offset="5.47%" stop-color="#0000bf"/>
<stop offset="6.25%" stop-color="#0000c8"/>
<stop offset="7.03%" stop-color="#0000d1"/>
<stop offset="7.81%" stop-color="#0000da"/>
<stop offset="8.59%" stop-color="#0000e3"/>
<stop offset="9.38%" stop-color="#0000ed"/>
<stop offset="10.16%" stop-color="#0000f6"/>
<stop offset="10.94%" stop-color="#0000ff"/>
<stop offset="11.72%" stop-color="#0000ff"/>
<stop offset="12.5%" stop-color="#0000ff"/>
<stop offset="13.28%" stop-color="#0008ff"/>
<stop offset="14.06%" stop-color="#0010ff"/>
<stop offset="14.84%" stop-color="#0018ff"/>
<stop offset="15.62%" stop-color="#0020ff"/>
<stop offset="16.41%" stop-color="#0028ff"/>
<stop offset="17.19%" stop-color="#0030ff"/>
<stop offset="17.97%" stop-color="#0038ff"/>
<stop offset="18.75%" stop-color="#0040ff"/>
<stop offset="19.53%" stop-color="#0048ff"/>
<stop offset="20.31%" stop-color="#0050ff"/>
<stop offset="21.09%" stop-color="#0058ff"/>
<stop offset="21.88%" stop-color="#0060ff"/>
<stop offset="22.66%" stop-color="#0068ff"/>
<stop offset="23.44%" stop-color="#0070ff"/>
<stop offset="24.22%" stop-color="#0078ff"/>
<stop offset="25%" stop-color="#0080ff"/>
<stop offset="25.78%" stop-color="#0089ff"/>
<stop offset="26.56%" stop-color="#0090ff"/>
<stop offset="27.34%" stop-color="#0099ff"/>
<stop offset="28.12%" stop-color="#00a0ff"/>
<stop offset="28.91%" stop-color="#00a9ff"/>
<stop offset="29.69%" stop-color="#00b0ff"/>
<stop offset="30.47%" stop-color="#00b9ff"/>
<stop offset="31.25%" stop-color="#00c0ff"/>
<stop offset="32.03%" stop-color="#00c9ff"/>
<stop offset="32.81%" stop-color="#00d0ff"/>
<stop offset="33.59%" stop-color="#00d9ff"/>
<stop offset="34.38%" stop-color="#00e0fb"/>
<stop offset="35.16%" stop-color="#02e9f4"/>
<stop offset="35.94%" stop-color="#09f0ee"/>
<stop offset="36.72%" stop-color="#0ff9e7"/>
<stop offset="37.5%" stop-color="#16ffe1"/>
<stop offset="38.28%" stop-color="#1cffdb"/>
<stop offset="39.06%" stop-color="#23ffd4"/>
<stop offset="39.84%" stop-color="#29ffce"/>
<stop offset="40.62%" stop-color="#30ffc7"/>
<stop offset="41.41%" stop-color="#36ffc1"/>
<stop offset="42.19%" stop-color="#3cffba"/>
<stop offset="42.97%" stop-color="#43ffb4"/>
<stop offset="43.75%" stop-color="#49ffad"/>
<stop offset="44.53%" stop-color="#50ffa7"/>
<stop offset="45.31%" stop-color="#56ffa0"/>
<stop offset="46.09%" stop-color="#5dff9a"/>
<stop offset="46.88%" stop-color="#63ff94"/>
<stop offset="47.66%" stop-color="#6aff8d"/>
<stop offset="48.44%" stop-color="#70ff87"/>
<stop offset="49.22%" stop-color="#77ff80"/>
<stop offset="50%" stop-color="#7dff7a"/>
<stop offset="50.78%" stop-color="#83ff73"/>
<stop offset="51.56%" stop-color="#8aff6d"/>
<stop offset="52.34%" stop-color="#90ff66"/>
<stop offset="53.12%" stop-color="#97ff60"/>
<stop offset="53.91%" stop-color="#9dff5a"/>
<stop offset="54.69%" stop-color="#a4ff53"/>
<stop offset="55.47%" stop-color="#aaff4d"/>
<stop offset="56.25%" stop-color="#b1ff46"/>
<stop offset="57.03%" stop-color="#b7ff40"/>
<stop offset="57.81%" stop-color="#beff39"/>
<stop offset="58.59%" stop-color="#c4ff33"/>
<stop offset="59.38%" stop-color="#caff2c"/>
<stop offset="60.16%" stop-color="#d1ff26"/>
<stop offset="60.94%" stop-color="#d7ff1f"/>
<stop offset="61.72%" stop-color="#deff19"/>
<stop offset="62.5%" stop-color="#e4ff13"/>
<stop offset="63.28%" stop-color="#ebff0c"/>
<stop offset="64.06%" stop-color="#f1fc06"/>
<stop offset="64.84%" stop-color="#f8f500"/>
<stop offset="65.62%" stop-color="#feed00"/>
<stop offset="66.41%" stop-color="#ffe600"/>
<stop offset="67.19%" stop-color="#ffde00"/>
<stop offset="67.97%" stop-color="#ffd700"/>
<stop offset="68.75%" stop-color="#ffd000"/>
<stop offset="69.53%" stop-color="#ffc800"/>
<stop offset="70.31%" stop-color="#ffc100"/>
<stop offset="71.09%" stop-color="#ffb900"/>
<stop offset="71.88%" stop-color="#ffb200"/>
<stop offset="72.66%" stop-color="#ffab00"/>
<stop offset="73.44%" stop-color="#ffa300"/>
<stop offset="74.22%" stop-color="#ff9c00"/>
<stop offset="75%" stop-color="#ff9400"/>
<stop offset="75.78%" stop-color="#ff8d00"/>
<stop offset="76.56%" stop-color="#ff8600"/>
<stop offset="77.34%" stop-color="#ff7e00"/>
<stop offset="78.12%" stop-color="#ff7700"/>
<stop offset="78.91%" stop-color="#ff6f00"/>
<stop offset="79.69%" stop-color="#ff6800"/>
<stop offset="80.47%" stop-color="#ff6000"/>
<stop offset="81.25%" stop-color="#ff5900"/>
<stop offset="82.03%" stop-color="#ff5200"/>
<stop offset="82.81%" stop-color="#ff4a00"/>
<stop offset="83.59%" stop-color="#ff4300"/>
<stop offset="84.38%" stop-color="#ff3b00"/>
<stop offset="85.16%" stop-color="#ff3400"/>
<stop offset="85.94%" stop-color="#ff2d00"/>
<stop offset="86.72%" stop-color="#ff2500"/>
<stop offset="87.5%" stop-color="#ff1e00"/>
<stop offset="88.28%" stop-color="#ff1600"/>
<stop offset="89.06%" stop-color="#fa0f00"/>
<stop offset="89.84%" stop-color="#f10800"/>
<stop offset="90.62%" stop-color="#e80000"/>
<stop offset="91.41%" stop-color="#df0000"/>
<stop offset="92.19%" stop-color="#d60000"/>
<stop offset="92.97%" stop-color="#cd0000"/>
<stop offset="93.75%" stop-color="#c40000"/>
<stop offset="94.53%" stop-color="#bb0000"/>
<stop offset="95.31%" stop-color="#b10000"/>
<stop offset="96.09%" stop-color="#a80000"/>
<stop offset="96.88%" stop-color="#9f0000"/>
<stop offset="97.66%" stop-color="#960000"/>
<stop offset="98.44%" stop-color="#8d0000"/>
<stop offset="99.22%" stop-color="#840000"/>
<stop offset="100%" stop-color="#800000"/>
</linearGradient>
<rect x="1912.3" y="952.2" width="36.2" height="724.4" fill="url(#g2)" stroke="#000" stroke-width="1.85"/>
<text x="1963.59" y="1649.52" font-size="30.3" text-anchor="start" fill="#000" stroke="#000">2</text>
<text x="1963.59" y="1573.27" font-size="30.3" text-anchor="start" fill="#000" stroke="#000">4</text>
<text x="1963.59" y="1497.01" font-size="30.3" text-anchor="start" fill="#000" stroke="#000">6</text>
<text x="1963.59" y="1420.76" font-size="30.3" text-anchor="start" fill="#000" stroke="#000">8</text>
<text x="1963.59" y="1344.51" font-size="30.3" text-anchor="start" fill="#000" stroke="#000">10</text>
<text x="1963.59" y="1268.25" font-size="30.3" text-anchor="start" fill="#000" stroke="#000">12</text>
<text x="1963.59" y="1192" font-size="30.3" text-anchor="start" fill="#000" stroke="#000">14</text>
<text x="1963.59" y="1115.75" font-size="30.3" text-anchor="start" fill="#000" stroke="#000">16</text>
<text x="1963.59" y="1039.5" font-size="30.3" text-anchor="start" fill="#000" stroke="#000">18</text>
<text x="1963.59" y="963.24" font-size="30.3" text-anchor="start" fill="#000" stroke="#000">20</text>
<path d="M1948.5 1638.47h7.54M1948.5 1562.22h7.54M1948.5 1485.97h7.54M1948.5 1409.72h7.54M1948.5 1333.46h7.54M1948.5 1257.21h7.54M1948.5 1180.96h7.54M1948.5 1104.71h7.54M1948.5 1028.45h7.54M1948.5 952.2h7.54" stroke="#000" stroke-width="1.85" fill="none"/>
</svg>
</body></html>
